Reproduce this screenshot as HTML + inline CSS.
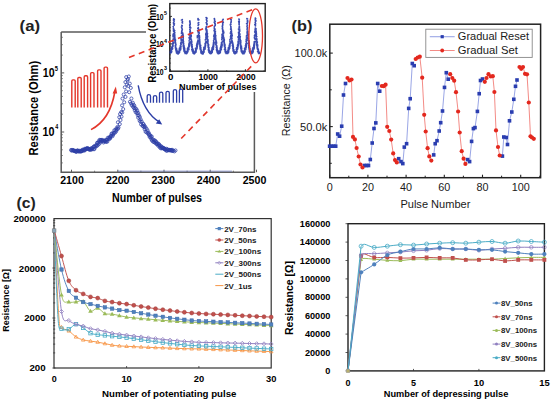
<!DOCTYPE html>
<html><head><meta charset="utf-8"><style>
html,body{margin:0;padding:0;background:#fff;}
svg{display:block;font-family:"Liberation Sans",sans-serif;}
</style></head><body>
<svg width="553" height="401" viewBox="0 0 553 401">
<rect width="553" height="401" fill="#fff"/>
<text x="19.6" y="30.6" font-size="14.5" font-weight="bold" textLength="20.5" lengthAdjust="spacingAndGlyphs" fill="#222">(a)</text>
<path d="M61.2,32 V172.2 H254.4 V92" fill="none" stroke="#5a5a5a" stroke-width="1.5"/>
<path d="M61.2,32 H146" fill="none" stroke="#5a5a5a" stroke-width="1.5"/>
<path d="M61.2,132 h3" stroke="#5a5a5a" stroke-width="1"/>
<path d="M61.2,72.9 h3" stroke="#5a5a5a" stroke-width="1"/>
<path d="M61.2,162.9 h1.6" stroke="#5a5a5a" stroke-width="0.8"/>
<path d="M61.2,155.5 h1.6" stroke="#5a5a5a" stroke-width="0.8"/>
<path d="M61.2,149.8 h1.6" stroke="#5a5a5a" stroke-width="0.8"/>
<path d="M61.2,145.1 h1.6" stroke="#5a5a5a" stroke-width="0.8"/>
<path d="M61.2,141.2 h1.6" stroke="#5a5a5a" stroke-width="0.8"/>
<path d="M61.2,137.7 h1.6" stroke="#5a5a5a" stroke-width="0.8"/>
<path d="M61.2,134.7 h1.6" stroke="#5a5a5a" stroke-width="0.8"/>
<path d="M61.2,114.2 h1.6" stroke="#5a5a5a" stroke-width="0.8"/>
<path d="M61.2,103.8 h1.6" stroke="#5a5a5a" stroke-width="0.8"/>
<path d="M61.2,96.4 h1.6" stroke="#5a5a5a" stroke-width="0.8"/>
<path d="M61.2,90.7 h1.6" stroke="#5a5a5a" stroke-width="0.8"/>
<path d="M61.2,86 h1.6" stroke="#5a5a5a" stroke-width="0.8"/>
<path d="M61.2,82.1 h1.6" stroke="#5a5a5a" stroke-width="0.8"/>
<path d="M61.2,78.6 h1.6" stroke="#5a5a5a" stroke-width="0.8"/>
<path d="M61.2,75.6 h1.6" stroke="#5a5a5a" stroke-width="0.8"/>
<path d="M61.2,55.1 h1.6" stroke="#5a5a5a" stroke-width="0.8"/>
<path d="M61.2,44.7 h1.6" stroke="#5a5a5a" stroke-width="0.8"/>
<path d="M61.2,37.3 h1.6" stroke="#5a5a5a" stroke-width="0.8"/>
<path d="M71.5,172.2 v-2.5" stroke="#5a5a5a" stroke-width="1"/>
<path d="M117.8,172.2 v-2.5" stroke="#5a5a5a" stroke-width="1"/>
<path d="M164,172.2 v-2.5" stroke="#5a5a5a" stroke-width="1"/>
<path d="M210.2,172.2 v-2.5" stroke="#5a5a5a" stroke-width="1"/>
<path d="M256.5,172.2 v-2.5" stroke="#5a5a5a" stroke-width="1"/>
<path d="M94.6,172.2 v-1.5" stroke="#5a5a5a" stroke-width="0.8"/>
<path d="M140.9,172.2 v-1.5" stroke="#5a5a5a" stroke-width="0.8"/>
<path d="M187.1,172.2 v-1.5" stroke="#5a5a5a" stroke-width="0.8"/>
<path d="M233.4,172.2 v-1.5" stroke="#5a5a5a" stroke-width="0.8"/>
<text x="42.8" y="76.8" font-size="12.4" font-weight="bold" textLength="11.8" lengthAdjust="spacingAndGlyphs">10</text>
<text x="54.8" y="71.4" font-size="7.5" font-weight="bold" textLength="3.2" lengthAdjust="spacingAndGlyphs">5</text>
<text x="42.6" y="135.8" font-size="12.4" font-weight="bold" textLength="12" lengthAdjust="spacingAndGlyphs">10</text>
<text x="55.2" y="129.4" font-size="7.5" font-weight="bold" textLength="3" lengthAdjust="spacingAndGlyphs">4</text>
<text x="72" y="184" font-size="11.8" font-weight="bold" text-anchor="middle" textLength="23.6" lengthAdjust="spacingAndGlyphs">2100</text>
<text x="117.7" y="184" font-size="11.8" font-weight="bold" text-anchor="middle" textLength="23.6" lengthAdjust="spacingAndGlyphs">2200</text>
<text x="163.2" y="184" font-size="11.8" font-weight="bold" text-anchor="middle" textLength="23.6" lengthAdjust="spacingAndGlyphs">2300</text>
<text x="208.6" y="184" font-size="11.8" font-weight="bold" text-anchor="middle" textLength="23.6" lengthAdjust="spacingAndGlyphs">2400</text>
<text x="254.5" y="184" font-size="11.8" font-weight="bold" text-anchor="middle" textLength="23.6" lengthAdjust="spacingAndGlyphs">2500</text>
<text x="112" y="202.1" font-size="12" font-weight="bold" textLength="90" lengthAdjust="spacingAndGlyphs">Number of pulses</text>
<text x="37.6" y="155.4" font-size="12" font-weight="bold" textLength="94.5" lengthAdjust="spacingAndGlyphs" transform="rotate(-90 37.6 155.4)">Resistance (Ohm)</text>
<path d="M118,171.1 H232" stroke="#5566bb" stroke-width="0.8" opacity="0.7"/>
<path d="M71.8,107.5 V81 Q71.8,79.9 72.9,79.9 H74.1 Q75.2,79.9 75.2,81 V107.5 M77.8,107.5 V78.6 Q77.8,77.5 78.9,77.5 H80.1 Q81.2,77.5 81.2,78.6 V107.5 M84.2,107.5 V76.9 Q84.2,75.8 85.3,75.8 H86.5 Q87.6,75.8 87.6,76.9 V107.5 M90.6,107.5 V73.7 Q90.6,72.6 91.7,72.6 H92.9 Q94,72.6 94,73.7 V107.5 M97.6,107.5 V71 Q97.6,69.9 98.7,69.9 H99.9 Q101,69.9 101,71 V107.5 M104.1,107.5 V68.2 Q104.1,67.1 105.2,67.1 H106.4 Q107.5,67.1 107.5,68.2 V107.5 " fill="none" stroke="#e4372b" stroke-width="1.4"/>
<path d="M91,129.6 Q110,120 114.8,92" fill="none" stroke="#e4372b" stroke-width="1.6"/>
<path d="M115.8,86.5 L112.6,93.5 L117.2,93.5 Z" fill="#e4372b"/>
<path d="M138.2,85.4 Q143,112 159.5,122.2" fill="none" stroke="#2c3ea6" stroke-width="1.4"/>
<path d="M162.2,124.4 L155.8,123.5 L159.2,119.2 Z" fill="#2c3ea6"/>
<g fill="none" stroke="#2c3ea6" stroke-width="0.75"><circle cx="72.4" cy="150" r="1.55"/><circle cx="71.1" cy="149.9" r="1.55"/><circle cx="73.4" cy="150.4" r="1.55"/><circle cx="71.6" cy="150.7" r="1.55"/><circle cx="74.1" cy="150.7" r="1.55"/><circle cx="72.6" cy="150.2" r="1.55"/><circle cx="75.2" cy="151.4" r="1.55"/><circle cx="73.5" cy="150.5" r="1.55"/><circle cx="76.3" cy="151.7" r="1.55"/><circle cx="74.7" cy="150.9" r="1.55"/><circle cx="77.4" cy="150.4" r="1.55"/><circle cx="75.8" cy="150.8" r="1.55"/><circle cx="77.8" cy="150.6" r="1.55"/><circle cx="76.4" cy="151.8" r="1.55"/><circle cx="78.8" cy="151.4" r="1.55"/><circle cx="77.5" cy="151.1" r="1.55"/><circle cx="79.9" cy="150.7" r="1.55"/><circle cx="78.1" cy="151" r="1.55"/><circle cx="80.9" cy="151.4" r="1.55"/><circle cx="79.2" cy="151.5" r="1.55"/><circle cx="81.7" cy="150.9" r="1.55"/><circle cx="80.4" cy="151.4" r="1.55"/><circle cx="82.5" cy="151" r="1.55"/><circle cx="81.2" cy="151.3" r="1.55"/><circle cx="83.7" cy="150.2" r="1.55"/><circle cx="82.4" cy="149.7" r="1.55"/><circle cx="84.5" cy="150.6" r="1.55"/><circle cx="82.8" cy="150" r="1.55"/><circle cx="85.2" cy="149.9" r="1.55"/><circle cx="84.1" cy="149.4" r="1.55"/><circle cx="86.6" cy="148.6" r="1.55"/><circle cx="85" cy="148.7" r="1.55"/><circle cx="87.3" cy="148.1" r="1.55"/><circle cx="86" cy="148.8" r="1.55"/><circle cx="88.2" cy="148.6" r="1.55"/><circle cx="86.4" cy="148.8" r="1.55"/><circle cx="89.2" cy="149.4" r="1.55"/><circle cx="87.8" cy="148.5" r="1.55"/><circle cx="90" cy="149.3" r="1.55"/><circle cx="88.3" cy="149" r="1.55"/><circle cx="90.8" cy="148.4" r="1.55"/><circle cx="89.2" cy="149.5" r="1.55"/><circle cx="91.7" cy="148.7" r="1.55"/><circle cx="90.3" cy="149.7" r="1.55"/><circle cx="92.6" cy="149.1" r="1.55"/><circle cx="91.3" cy="149.7" r="1.55"/><circle cx="94" cy="149.3" r="1.55"/><circle cx="92.1" cy="148.2" r="1.55"/><circle cx="94.6" cy="148.6" r="1.55"/><circle cx="93.4" cy="147" r="1.55"/><circle cx="95.4" cy="146.7" r="1.55"/><circle cx="93.9" cy="146.7" r="1.55"/><circle cx="96.6" cy="146" r="1.55"/><circle cx="94.7" cy="145.9" r="1.55"/><circle cx="97.4" cy="145.5" r="1.55"/><circle cx="96.2" cy="145.1" r="1.55"/><circle cx="98.4" cy="144.4" r="1.55"/><circle cx="97" cy="142.9" r="1.55"/><circle cx="99.6" cy="143.5" r="1.55"/><circle cx="98" cy="142.9" r="1.55"/><circle cx="100.2" cy="141.7" r="1.55"/><circle cx="98.5" cy="141.5" r="1.55"/><circle cx="100.9" cy="140" r="1.55"/><circle cx="99.5" cy="139.9" r="1.55"/><circle cx="102" cy="139.8" r="1.55"/><circle cx="100.3" cy="140.1" r="1.55"/><circle cx="102.8" cy="140.6" r="1.55"/><circle cx="101.2" cy="141.5" r="1.55"/><circle cx="104" cy="140.4" r="1.55"/><circle cx="102.3" cy="141" r="1.55"/><circle cx="104.8" cy="140.9" r="1.55"/><circle cx="103.5" cy="142.5" r="1.55"/><circle cx="105.8" cy="141.9" r="1.55"/><circle cx="104" cy="141.5" r="1.55"/><circle cx="106.6" cy="141.6" r="1.55"/><circle cx="105.4" cy="140.9" r="1.55"/><circle cx="107.4" cy="141.6" r="1.55"/><circle cx="106.1" cy="139.8" r="1.55"/><circle cx="108.6" cy="139" r="1.55"/><circle cx="107.1" cy="139.9" r="1.55"/><circle cx="109.7" cy="138.9" r="1.55"/><circle cx="107.8" cy="137.8" r="1.55"/><circle cx="110.2" cy="138" r="1.55"/><circle cx="108.9" cy="137.6" r="1.55"/><circle cx="111.2" cy="136.2" r="1.55"/><circle cx="110" cy="137" r="1.55"/><circle cx="112.5" cy="136.2" r="1.55"/><circle cx="110.9" cy="135.6" r="1.55"/><circle cx="113" cy="134.8" r="1.55"/><circle cx="111.6" cy="133.6" r="1.55"/><circle cx="113.8" cy="133.5" r="1.55"/><circle cx="112.4" cy="133.5" r="1.55"/><circle cx="115.3" cy="132.5" r="1.55"/><circle cx="113.8" cy="132.8" r="1.55"/><circle cx="116.2" cy="131.2" r="1.55"/><circle cx="114.3" cy="130.3" r="1.55"/><circle cx="116.7" cy="129.7" r="1.55"/><circle cx="115.4" cy="130.1" r="1.55"/><circle cx="118" cy="128.7" r="1.55"/><circle cx="116.4" cy="128.4" r="1.55"/><circle cx="118.5" cy="127.5" r="1.55"/><circle cx="117.5" cy="126.9" r="1.55"/><circle cx="119.8" cy="124.1" r="1.55"/><circle cx="117.9" cy="122.3" r="1.55"/><circle cx="120.5" cy="120.1" r="1.55"/><circle cx="119.3" cy="117.2" r="1.55"/><circle cx="121.5" cy="116.7" r="1.55"/><circle cx="120.1" cy="114" r="1.55"/><circle cx="122.2" cy="112.5" r="1.55"/><circle cx="121.2" cy="112.1" r="1.55"/><circle cx="123.2" cy="109.1" r="1.55"/><circle cx="122.1" cy="105.4" r="1.55"/><circle cx="124.2" cy="102.3" r="1.55"/><circle cx="122.5" cy="98.6" r="1.55"/><circle cx="125.5" cy="96.9" r="1.55"/><circle cx="123.7" cy="94.5" r="1.55"/><circle cx="126.1" cy="91.4" r="1.55"/><circle cx="124.8" cy="87.3" r="1.55"/><circle cx="126.9" cy="84.5" r="1.55"/><circle cx="125.4" cy="82.1" r="1.55"/><circle cx="127.9" cy="79.1" r="1.55"/><circle cx="126.2" cy="77.1" r="1.55"/><circle cx="128.8" cy="76.5" r="1.55"/><circle cx="127.4" cy="80.4" r="1.55"/><circle cx="129.8" cy="83.6" r="1.55"/><circle cx="128.3" cy="85.9" r="1.55"/><circle cx="130.8" cy="87.9" r="1.55"/><circle cx="129.2" cy="92.2" r="1.55"/><circle cx="131.4" cy="98.5" r="1.55"/><circle cx="130" cy="101.8" r="1.55"/><circle cx="132.8" cy="102.7" r="1.55"/><circle cx="131" cy="103.5" r="1.55"/><circle cx="133.6" cy="104.8" r="1.55"/><circle cx="131.8" cy="105.3" r="1.55"/><circle cx="134.3" cy="105.7" r="1.55"/><circle cx="133.1" cy="106.9" r="1.55"/><circle cx="135.4" cy="108.1" r="1.55"/><circle cx="134.1" cy="108.3" r="1.55"/><circle cx="136.4" cy="109.2" r="1.55"/><circle cx="134.8" cy="110.3" r="1.55"/><circle cx="137.2" cy="110.8" r="1.55"/><circle cx="135.7" cy="112.2" r="1.55"/><circle cx="138.3" cy="113" r="1.55"/><circle cx="136.9" cy="113.2" r="1.55"/><circle cx="139.1" cy="115.5" r="1.55"/><circle cx="137.8" cy="115.3" r="1.55"/><circle cx="139.8" cy="117" r="1.55"/><circle cx="138.2" cy="117.7" r="1.55"/><circle cx="140.7" cy="119.4" r="1.55"/><circle cx="139.6" cy="120.7" r="1.55"/><circle cx="141.7" cy="121.5" r="1.55"/><circle cx="140.4" cy="121.6" r="1.55"/><circle cx="143" cy="123.7" r="1.55"/><circle cx="141.1" cy="124.4" r="1.55"/><circle cx="143.7" cy="124.4" r="1.55"/><circle cx="142.5" cy="125.7" r="1.55"/><circle cx="144.4" cy="125.8" r="1.55"/><circle cx="143.1" cy="126.3" r="1.55"/><circle cx="145.4" cy="127" r="1.55"/><circle cx="144.2" cy="127.3" r="1.55"/><circle cx="146.5" cy="128.7" r="1.55"/><circle cx="144.7" cy="129.3" r="1.55"/><circle cx="147.5" cy="130.3" r="1.55"/><circle cx="145.6" cy="131.8" r="1.55"/><circle cx="148.5" cy="132.5" r="1.55"/><circle cx="146.6" cy="132.1" r="1.55"/><circle cx="149" cy="133.7" r="1.55"/><circle cx="147.6" cy="133.4" r="1.55"/><circle cx="150.2" cy="135.3" r="1.55"/><circle cx="148.9" cy="134.9" r="1.55"/><circle cx="150.9" cy="136.6" r="1.55"/><circle cx="149.6" cy="136.9" r="1.55"/><circle cx="151.8" cy="136.5" r="1.55"/><circle cx="150.6" cy="137.7" r="1.55"/><circle cx="152.7" cy="139.2" r="1.55"/><circle cx="151.5" cy="139.5" r="1.55"/><circle cx="153.7" cy="140.1" r="1.55"/><circle cx="152.1" cy="140.7" r="1.55"/><circle cx="154.8" cy="140.4" r="1.55"/><circle cx="153.3" cy="141.9" r="1.55"/><circle cx="155.6" cy="141.1" r="1.55"/><circle cx="154.2" cy="141.8" r="1.55"/><circle cx="156.4" cy="142.1" r="1.55"/><circle cx="154.9" cy="142.7" r="1.55"/><circle cx="157.5" cy="143.3" r="1.55"/><circle cx="156.2" cy="143.7" r="1.55"/><circle cx="158.5" cy="144" r="1.55"/><circle cx="156.9" cy="144.2" r="1.55"/><circle cx="159.3" cy="144.5" r="1.55"/><circle cx="158.1" cy="145.7" r="1.55"/><circle cx="160.2" cy="145.9" r="1.55"/><circle cx="159.1" cy="145.6" r="1.55"/><circle cx="161.5" cy="146.5" r="1.55"/><circle cx="159.8" cy="147.4" r="1.55"/><circle cx="162.2" cy="147.2" r="1.55"/><circle cx="160.8" cy="148.3" r="1.55"/><circle cx="163.1" cy="148.4" r="1.55"/><circle cx="161.7" cy="148.3" r="1.55"/><circle cx="164" cy="148" r="1.55"/><circle cx="162.3" cy="147.8" r="1.55"/><circle cx="164.7" cy="149" r="1.55"/><circle cx="163.3" cy="148.2" r="1.55"/><circle cx="165.7" cy="149.4" r="1.55"/><circle cx="164.6" cy="149.3" r="1.55"/><circle cx="166.7" cy="148.8" r="1.55"/><circle cx="165.2" cy="149.3" r="1.55"/><circle cx="167.6" cy="149.5" r="1.55"/><circle cx="166.1" cy="150.5" r="1.55"/><circle cx="169" cy="150" r="1.55"/><circle cx="167" cy="150.8" r="1.55"/><circle cx="169.5" cy="149.9" r="1.55"/><circle cx="167.8" cy="150" r="1.55"/><circle cx="170.5" cy="150.2" r="1.55"/><circle cx="168.8" cy="150.3" r="1.55"/><circle cx="171.2" cy="150" r="1.55"/><circle cx="169.7" cy="150.3" r="1.55"/><circle cx="172.1" cy="149.8" r="1.55"/><circle cx="170.7" cy="150.2" r="1.55"/><circle cx="173.4" cy="150.7" r="1.55"/><circle cx="171.9" cy="151" r="1.55"/><circle cx="174.4" cy="151.4" r="1.55"/><circle cx="172.6" cy="150.6" r="1.55"/><circle cx="175.5" cy="150.4" r="1.55"/></g>
<path d="M146,0 H270 V92 H146 Z" fill="#fff"/>
<rect x="169.8" y="3.6" width="95.4" height="67.6" fill="none" stroke="#222" stroke-width="1.4"/>
<path d="M169.8,71.4 h2.2" stroke="#222" stroke-width="0.9"/>
<path d="M169.8,43.9 h2.2" stroke="#222" stroke-width="0.9"/>
<path d="M169.8,16.4 h2.2" stroke="#222" stroke-width="0.9"/>
<path d="M169.8,63.1 h1.2" stroke="#222" stroke-width="0.6"/>
<path d="M169.8,58.3 h1.2" stroke="#222" stroke-width="0.6"/>
<path d="M169.8,54.8 h1.2" stroke="#222" stroke-width="0.6"/>
<path d="M169.8,52.2 h1.2" stroke="#222" stroke-width="0.6"/>
<path d="M169.8,50 h1.2" stroke="#222" stroke-width="0.6"/>
<path d="M169.8,48.2 h1.2" stroke="#222" stroke-width="0.6"/>
<path d="M169.8,46.6 h1.2" stroke="#222" stroke-width="0.6"/>
<path d="M169.8,45.2 h1.2" stroke="#222" stroke-width="0.6"/>
<path d="M169.8,35.6 h1.2" stroke="#222" stroke-width="0.6"/>
<path d="M169.8,30.8 h1.2" stroke="#222" stroke-width="0.6"/>
<path d="M169.8,27.3 h1.2" stroke="#222" stroke-width="0.6"/>
<path d="M169.8,24.7 h1.2" stroke="#222" stroke-width="0.6"/>
<path d="M169.8,22.5 h1.2" stroke="#222" stroke-width="0.6"/>
<path d="M169.8,20.7 h1.2" stroke="#222" stroke-width="0.6"/>
<path d="M169.8,19.1 h1.2" stroke="#222" stroke-width="0.6"/>
<path d="M169.8,17.7 h1.2" stroke="#222" stroke-width="0.6"/>
<path d="M169.8,8.1 h1.2" stroke="#222" stroke-width="0.6"/>
<path d="M170.5,71.2 v-2" stroke="#222" stroke-width="0.9"/>
<path d="M207.9,71.2 v-2" stroke="#222" stroke-width="0.9"/>
<path d="M245.4,71.2 v-2" stroke="#222" stroke-width="0.9"/>
<path d="M189.2,71.2 v-1.2" stroke="#222" stroke-width="0.6"/>
<path d="M226.7,71.2 v-1.2" stroke="#222" stroke-width="0.6"/>
<path d="M264.1,71.2 v-1.2" stroke="#222" stroke-width="0.6"/>
<path d="M170.5,52.9h.1M170.3,52.4h.1M170.5,51.5h.1M170.6,51.6h.1M170.7,51.2h.1M170.7,52.4h.1M170.6,51.7h.1M170.6,52.2h.1M170.9,52.2h.1M170.8,51.5h.1M170.4,51.8h.1M171,51.9h.1M170.9,51.5h.1M170.5,51.8h.1M171.1,52.4h.1M171.1,51.7h.1M171,51.7h.1M171,51h.1M171.5,50.9h.1M171.6,51.7h.1M170.8,50.8h.1M171.5,51.3h.1M171.2,50h.1M171.1,50.7h.1M171.1,49.8h.1M171.1,49.4h.1M171.9,48.6h.1M171.8,48.8h.1M171.9,48.7h.1M171.4,48.7h.1M171.6,47.5h.1M171.2,48.2h.1M171.7,48h.1M171.4,48.2h.1M171.7,48.9h.1M171.4,48.9h.1M172.2,48.2h.1M172.3,49.1h.1M172.4,48.7h.1M171.9,48.6h.1M172.5,48.6h.1M172,48h.1M172,47.2h.1M171.9,48h.1M172.1,47.8h.1M172.1,46.6h.1M172.4,46.2h.1M172.3,47h.1M172.8,46.6h.1M172.6,46.5h.1M172.9,45.7h.1M172.8,44.8h.1M172.8,45.1h.1M172.9,45h.1M172.5,43.8h.1M173.1,43.6h.1M172.8,43.6h.1M172.7,43.8h.1M173.3,42.7h.1M173.1,42.4h.1M173,42.1h.1M172.7,41.4h.1M172.8,41.4h.1M173.1,39.2h.1M173.5,39h.1M173.2,36.8h.1M173,35.9h.1M173.1,35.1h.1M173.1,34.6h.1M173.4,33.8h.1M173.6,31.3h.1M173.4,29.9h.1M173.4,28.2h.1M173.2,26.5h.1M174,24.7h.1M173.6,23.8h.1M174,21.6h.1M173.5,20.1h.1M173.7,18.9h.1M174.2,19.4h.1M174.2,20h.1M173.5,22.7h.1M174.3,23.8h.1M174.1,25.1h.1M173.9,29.3h.1M174.4,31h.1M174.6,30.6h.1M173.8,30.9h.1M174.2,32.1h.1M174.7,32.6h.1M174.4,33.2h.1M174.3,33.3h.1M174,34h.1M174.2,34.6h.1M174.6,34.2h.1M174.2,34.6h.1M174.7,35.7h.1M174.3,35.5h.1M174.7,36.8h.1M174.6,36.9h.1M174.8,37.2h.1M174.6,38.4h.1M175.3,39.2h.1M175.2,39.5h.1M174.7,39.7h.1M175.4,40.7h.1M174.8,40.2h.1M175.1,41.5h.1M175,41.3h.1M175.3,42.6h.1M175,41.8h.1M175.1,42.7h.1M175.5,42.8h.1M175.6,44h.1M175.4,43.6h.1M175.8,44.2h.1M175.8,44.5h.1M175.3,45.6h.1M175.4,46.3h.1M175.6,45.5h.1M175.4,46.2h.1M175.8,47.3h.1M175.4,46.9h.1M175.5,48h.1M175.5,47h.1M175.5,47.8h.1M176.3,48.8h.1M176.2,49.2h.1M176.4,48.6h.1M175.8,49.7h.1M176.3,48.7h.1M176.3,49.4h.1M176.1,49.6h.1M175.9,49.4h.1M176.1,50.1h.1M176.7,50h.1M176.8,50.2h.1M176.3,51.3h.1M176.7,50.9h.1M176.1,51.1h.1M176.4,51.9h.1M176.3,51.3h.1M177,51h.1M176.6,52.2h.1M177,51.2h.1M176.3,51.3h.1M177.2,51.7h.1M177.1,52.7h.1M176.7,51.9h.1M177.3,52.5h.1M176.8,52.7h.1M176.9,52.2h.1M176.6,52.9h.1M177.5,52.8h.1M177.6,52h.1M177,52.6h.1M177.7,53.3h.1M177.2,52.4h.1M177.3,52.8h.1M177.8,52.4h.1M177.7,53.2h.1M177.8,53.3h.1M177.6,52.7h.1M177.4,52.8h.1M177.9,52.4h.1M177.4,53.4h.1M177.5,52.4h.1M177.3,53.1h.1M177.6,53.7h.1M178.2,53.7h.1M177.7,52.4h.1M177.6,53h.1M178.2,52.9h.1M177.8,52.9h.1M177.9,53.3h.1M178,53.5h.1M178,52.5h.1M178.2,52.8h.1M178,53h.1M178.2,52.7h.1M177.8,52.8h.1M177.7,53.7h.1M178.2,53h.1M178.1,53.8h.1M178.2,52.6h.1M178.5,53.1h.1M178.7,52.3h.1M178.3,53.2h.1M178.7,53.2h.1M178,52.3h.1M178.1,51.9h.1M178.9,52.3h.1M178.9,51.8h.1M178.9,51.7h.1M178.4,52.1h.1M179.1,51.3h.1M178.8,52.1h.1M178.5,51.8h.1M178.5,51.7h.1M178.6,52.3h.1M179,51.7h.1M178.5,51.9h.1M179.2,51.7h.1M178.9,51.8h.1M179.4,52.3h.1M178.7,51.4h.1M179.1,51.9h.1M179.3,51h.1M179,51.7h.1M179.2,50.9h.1M179.2,51.6h.1M179.2,50.9h.1M179.3,50.3h.1M179.8,50.8h.1M179.4,49.4h.1M179.8,49.1h.1M179.2,49.8h.1M179.6,49.4h.1M179.6,49.1h.1M179.7,47.8h.1M179.4,48.4h.1M180,49h.1M179.5,48.7h.1M179.8,48.5h.1M179.7,48.3h.1M180,49.3h.1M179.7,48.9h.1M180.4,49.7h.1M179.9,48.6h.1M180.6,49.6h.1M180.2,48h.1M180.7,48.2h.1M180.7,48.2h.1M180.7,47.2h.1M180.7,47h.1M180.4,47.6h.1M180.8,46.5h.1M180.3,46.5h.1M180.6,46.2h.1M180.3,45.8h.1M180.9,46.5h.1M180.3,45.8h.1M181,44.8h.1M181.1,44.6h.1M181,44.8h.1M181,44.2h.1M180.9,44.2h.1M180.9,44h.1M181,43.3h.1M180.7,43.2h.1M181.1,42.3h.1M181.4,42.7h.1M181.2,40.8h.1M181.2,39.5h.1M181,38.8h.1M181,37.8h.1M181.4,36.5h.1M181.6,35.8h.1M181.7,36h.1M181.5,33.4h.1M181.6,32.1h.1M182,30.3h.1M182,30h.1M181.9,28.3h.1M181.5,26.9h.1M181.8,25.3h.1M182.2,22.6h.1M182.2,22.3h.1M181.5,20h.1M182.2,19.7h.1M182.4,21.5h.1M182.4,23h.1M182.1,25.6h.1M181.9,26.5h.1M182.2,29.3h.1M181.8,30.9h.1M182,32.4h.1M182.5,32.8h.1M182.1,33.1h.1M182.1,33.1h.1M182.6,33.4h.1M182.9,34h.1M182.6,34.9h.1M182.2,35.5h.1M182.8,35h.1M183,35.2h.1M183.2,36.2h.1M182.7,37.1h.1M182.8,36.9h.1M183.1,37.3h.1M183.2,38.1h.1M183.1,39.7h.1M183.1,39.8h.1M182.9,39.4h.1M182.7,40h.1M183.2,40.8h.1M183.2,41.9h.1M182.9,41.3h.1M183.4,41.4h.1M182.9,42.2h.1M183,42.6h.1M183.2,43.3h.1M183.5,43.2h.1M183.6,44h.1M183.2,45h.1M183.4,44.3h.1M183.3,45.4h.1M184,45.9h.1M183.6,45.6h.1M183.3,46.4h.1M183.9,46.4h.1M184,46.8h.1M184.3,47.6h.1M183.7,48.1h.1M183.6,47.9h.1M183.9,47.8h.1M183.7,48.8h.1M183.7,48.8h.1M184.6,48.5h.1M183.9,49.4h.1M184.3,49.7h.1M184.6,49.3h.1M184.2,49.7h.1M184,50.7h.1M184.7,50.7h.1M184,51.1h.1M184.7,50.7h.1M184.8,50.8h.1M184.4,50.5h.1M184.4,50.6h.1M184.5,51.8h.1M184.9,52.1h.1M185,51.4h.1M184.9,51.7h.1M185.1,51.9h.1M184.7,52.2h.1M185.4,51.7h.1M185.4,51.5h.1M184.8,51.9h.1M185.3,52.9h.1M185.4,52.2h.1M185.5,52.2h.1M185,53.1h.1M185.4,52.9h.1M185.5,53.3h.1M185.3,53.2h.1M185.6,53.2h.1M185.4,53.1h.1M185.6,52.5h.1M185.3,53h.1M185.2,53.4h.1M185.3,52.2h.1M185.3,53.5h.1M185.6,52.5h.1M185.3,52.4h.1M186,53.2h.1M186,53.3h.1M185.5,53.1h.1M185.8,53.4h.1M186.3,53.5h.1M185.6,53.5h.1M186.5,53.6h.1M185.8,52.6h.1M185.8,52.3h.1M186.2,53.5h.1M186.1,53.5h.1M186.1,52.8h.1M185.7,52.5h.1M186.3,52.7h.1M186,53h.1M185.7,52.8h.1M186,53.5h.1M186.1,52.9h.1M186.7,53.1h.1M186.7,53.2h.1M186,52.8h.1M186.4,53.2h.1M186.4,53h.1M186.6,52.3h.1M186.9,52h.1M186.9,51.9h.1M186.2,51.8h.1M186.9,52.7h.1M186.3,51.8h.1M186.8,52.2h.1M186.6,51.8h.1M186.8,52.4h.1M186.7,52.7h.1M186.8,51.7h.1M187.2,52.2h.1M186.7,52.4h.1M186.7,52.6h.1M187.3,52.6h.1M187.3,52h.1M187.2,52.1h.1M187.6,51.5h.1M187.7,51.2h.1M187.1,51.3h.1M187.8,51.4h.1M187.4,51.8h.1M187.3,51h.1M187.6,51.2h.1M187.8,50.7h.1M187.5,50h.1M187.4,50.4h.1M187.9,50h.1M187.5,49.3h.1M188.1,49.2h.1M187.5,48.7h.1M188.3,48.1h.1M187.7,48.3h.1M188.2,49.1h.1M187.7,48.2h.1M187.9,48.5h.1M188.2,48.3h.1M188,48.5h.1M188.7,49.3h.1M187.9,49.8h.1M188,49.1h.1M188.8,49.5h.1M188.6,48.7h.1M188.2,48.7h.1M188.1,47.8h.1M188.4,47.3h.1M188.5,48h.1M188.8,47.4h.1M188.8,47.1h.1M188.4,47h.1M188.7,47h.1M189.2,46.3h.1M188.9,46.5h.1M188.8,45.6h.1M189.1,46.2h.1M189.2,45.7h.1M189.3,45.3h.1M189.2,44.7h.1M188.9,44.6h.1M188.8,44h.1M189.5,44.1h.1M189.4,43.1h.1M189.2,43h.1M189.4,42.5h.1M189.5,42.3h.1M189.1,40.8h.1M189.7,39.2h.1M189.5,39.1h.1M189.1,37.7h.1M189.3,37.3h.1M190,36.2h.1M189.3,34.8h.1M189.8,33.3h.1M189.8,31.8h.1M190.1,30.2h.1M189.8,29.3h.1M189.7,27.5h.1M189.9,26h.1M189.7,24.9h.1M189.9,22.2h.1M189.9,21.2h.1M189.7,21.2h.1M190.1,23.2h.1M190.1,24.2h.1M190,26.3h.1M190.7,27.8h.1M190.1,30.8h.1M190.3,31.7h.1M190.1,32.9h.1M190.8,33.1h.1M190.5,33.5h.1M190.3,34.5h.1M190.5,34.4h.1M191,35.1h.1M190.7,34.7h.1M190.8,34.9h.1M191.1,35.6h.1M191.2,35.9h.1M190.8,36.3h.1M190.9,36.8h.1M190.5,38.2h.1M190.8,38.1h.1M190.9,38.9h.1M191.1,39.7h.1M191.3,39.8h.1M191.6,41h.1M190.9,41.4h.1M191.7,41.8h.1M191,42.2h.1M191.5,41.4h.1M191,43.1h.1M191.6,42.5h.1M191.2,42.7h.1M191.3,44h.1M191.5,43.5h.1M192,44.7h.1M191.4,45.2h.1M191.8,45.5h.1M191.9,46h.1M192.1,46.3h.1M191.6,46.4h.1M191.9,46.8h.1M191.9,47.3h.1M192.1,46.8h.1M191.8,46.9h.1M192.1,47.1h.1M192.1,47.5h.1M192.2,48.3h.1M192.3,49.1h.1M191.8,49.3h.1M192.3,49.2h.1M192.5,49.8h.1M192.3,49.5h.1M192.9,49.2h.1M192.6,50.2h.1M192.1,50.4h.1M192.8,51.1h.1M192.5,51.3h.1M192.7,50.8h.1M193.1,50.3h.1M193,51.3h.1M192.7,51.8h.1M192.7,51.4h.1M192.9,52h.1M192.7,51.7h.1M192.9,51.9h.1M193.3,51.6h.1M193.4,51.9h.1M193.1,51.8h.1M193.2,52.8h.1M193.4,52.7h.1M193.1,52.1h.1M193.1,52.5h.1M193.5,52.9h.1M193,52.9h.1M193.8,52.7h.1M193.1,52.4h.1M193.1,52.3h.1M193.9,52.9h.1M193.8,53.2h.1M194,53h.1M193.8,53h.1M193.9,53h.1M194,52.5h.1M194,52.9h.1M194.1,52.4h.1M193.6,52.4h.1M194.2,53.6h.1M194.2,52.8h.1M194.3,53.4h.1M194.2,52.7h.1M194,52.9h.1M194,52.9h.1M194.4,53.6h.1M193.9,53.1h.1M193.9,52.5h.1M194.3,53.1h.1M194.5,53h.1M193.7,52.9h.1M194.3,53.7h.1M194.7,53.1h.1M194.2,52.6h.1M194.5,52.8h.1M194.1,52.5h.1M194,53.5h.1M194.1,53.8h.1M194.1,53.5h.1M194.2,52.3h.1M194.8,52.5h.1M194.9,52.3h.1M194.3,53h.1M194.9,53h.1M195,51.8h.1M194.9,52.4h.1M194.8,52.6h.1M194.7,52.4h.1M195.2,51h.1M194.6,52h.1M195.3,51.3h.1M194.9,52.3h.1M194.8,52.6h.1M195.2,51.5h.1M195.1,52.2h.1M195.2,52.4h.1M195,52.6h.1M195.2,52.4h.1M195.5,52.1h.1M195.3,52.4h.1M195.9,52.1h.1M195.6,51.2h.1M195.2,52h.1M195.8,51.6h.1M195.5,51h.1M196.1,51.1h.1M195.9,50.1h.1M195.7,50.6h.1M195.7,50h.1M196,49.9h.1M196.2,48.8h.1M195.5,48.4h.1M196,48.5h.1M196.4,48.7h.1M195.7,48.7h.1M196.4,48.8h.1M196.3,48h.1M196.6,48.8h.1M196.5,49h.1M196.2,48h.1M196.4,49.1h.1M196.2,49.2h.1M196.9,48.6h.1M196.6,49h.1M196.5,48h.1M196.4,48.5h.1M196.9,47.8h.1M196.3,47.9h.1M197,46.8h.1M196.9,47.5h.1M197.2,46.7h.1M196.9,46.5h.1M196.6,45.7h.1M196.7,46.2h.1M196.9,45.7h.1M197,45.4h.1M196.8,44.5h.1M197.6,44.6h.1M196.8,44.6h.1M197.5,43.6h.1M197.4,43.6h.1M197.3,42.8h.1M196.9,43.8h.1M197.7,42.6h.1M197.5,41.9h.1M197.7,41.8h.1M197.9,41.2h.1M197.9,40.2h.1M197.4,37.7h.1M197.4,36.9h.1M197.3,35.9h.1M197.8,36.2h.1M197.8,35.5h.1M198.2,32.7h.1M198,31.3h.1M197.6,30.5h.1M197.8,28.5h.1M198.2,27.5h.1M198.2,25.1h.1M198.1,23.1h.1M198.6,22.6h.1M198,19.8h.1M198,18.7h.1M198.7,19.5h.1M198.6,20h.1M198.6,22.7h.1M198.6,24.6h.1M198.1,25.3h.1M198.8,29.3h.1M198.7,30.2h.1M198.7,31.3h.1M198.3,31.2h.1M198.5,31.3h.1M198.7,31.9h.1M198.6,32.3h.1M199,32.5h.1M199.1,33.2h.1M198.5,34.7h.1M198.7,35.1h.1M199.3,35.4h.1M198.7,35.4h.1M198.7,36.7h.1M199.5,36.9h.1M199.1,37.1h.1M199.5,37.9h.1M199.4,37.9h.1M199.1,38.4h.1M199.6,39.6h.1M199.1,40.6h.1M199.2,40.3h.1M199.2,40.5h.1M199.9,41h.1M199.3,41.6h.1M199.5,42.6h.1M199.3,43.1h.1M199.3,43.4h.1M199.9,42.8h.1M199.8,43.4h.1M199.6,43.6h.1M199.8,45.1h.1M200.4,45.5h.1M199.6,45h.1M200.4,45h.1M200.3,45.7h.1M200.6,45.6h.1M200.4,46.4h.1M199.9,46.3h.1M200.6,47.4h.1M200,47.5h.1M200.7,47.5h.1M200.5,47.7h.1M200.2,48.9h.1M200.7,48.4h.1M200.1,48.5h.1M200.7,49.3h.1M200.4,49.2h.1M200.8,50.1h.1M201,50.2h.1M200.5,49.7h.1M201,50.4h.1M201,50h.1M201.2,50.6h.1M201.2,51.5h.1M201,50.5h.1M201.4,51.3h.1M201.4,51.2h.1M200.8,52.1h.1M201,51.3h.1M201.1,52h.1M200.8,52h.1M201.2,52h.1M201,52.4h.1M201.7,52.7h.1M201.3,52.6h.1M201.4,52.7h.1M201.1,53h.1M202,52.5h.1M201.6,52.6h.1M201.7,52h.1M202.1,52.3h.1M201.4,52.1h.1M201.5,53.2h.1M201.4,52.2h.1M202,52.4h.1M201.5,53h.1M202,52.9h.1M202.2,52.4h.1M202.4,53.3h.1M201.7,52.5h.1M202.1,53h.1M202,52.5h.1M202.1,52.5h.1M202.3,53.5h.1M202,53.1h.1M202.6,52.5h.1M202.7,53.6h.1M202.3,52.9h.1M202.8,53h.1M202.1,53.7h.1M202.5,52.8h.1M202.1,52.9h.1M202.3,53.8h.1M202.7,53.7h.1M202.7,53.7h.1M202.1,53.2h.1M203,53.8h.1M202.4,53.1h.1M202.7,52.9h.1M202.7,52.4h.1M202.7,52.9h.1M202.3,52.3h.1M203.2,53.1h.1M203.2,52.8h.1M203.2,53.1h.1M203.3,51.7h.1M203.1,51.8h.1M203.2,51.6h.1M203.1,52.3h.1M203.2,51.3h.1M203.2,51.6h.1M203.6,51.5h.1M203.1,52.1h.1M203,52.2h.1M203.8,52.1h.1M203.2,52h.1M203.5,51.6h.1M203.1,51.6h.1M203.3,52h.1M203.4,51.8h.1M203.2,52h.1M204,51.9h.1M203.8,51.7h.1M203.5,51.6h.1M203.8,51.1h.1M203.9,50.8h.1M203.7,50.2h.1M203.7,50.3h.1M203.9,50h.1M203.6,49.4h.1M204.4,48.9h.1M204.2,48.9h.1M204,49.3h.1M204,48.6h.1M203.9,47.4h.1M204.6,47.9h.1M203.9,47.9h.1M204.3,48.5h.1M204.1,47.8h.1M204.9,48.6h.1M204.2,48.2h.1M204.4,48.8h.1M204.7,49.2h.1M204.9,48.9h.1M204.9,48.9h.1M205,48.2h.1M205,48.3h.1M205.2,47.1h.1M205.2,46.6h.1M205.1,47.1h.1M204.9,47.4h.1M205.1,46.3h.1M205.3,46.7h.1M205.2,45.8h.1M205.1,45.6h.1M205.4,45.1h.1M205.1,45.2h.1M205.2,44.6h.1M205.6,45h.1M205.3,44.1h.1M205.1,43.5h.1M205.1,43.6h.1M205.6,42.5h.1M205.9,42.5h.1M205.9,42.8h.1M206,41.5h.1M205.6,42.1h.1M205.3,39.8h.1M205.8,39.1h.1M206.2,38.2h.1M205.9,37.5h.1M205.9,36h.1M206.1,35h.1M205.8,34.4h.1M205.9,33.2h.1M206.2,30.7h.1M205.7,28.9h.1M206.1,27.6h.1M206.3,26.5h.1M206.7,24.2h.1M206.2,22.7h.1M206.8,20.7h.1M206.4,19.8h.1M206.1,17.5h.1M206.9,18.2h.1M206.5,19h.1M206.9,21.6h.1M206.9,23.6h.1M207,24.7h.1M206.4,27.6h.1M206.7,29.7h.1M206.5,29.7h.1M206.9,30.8h.1M206.7,31.8h.1M207,31h.1M206.9,32.5h.1M206.8,32.8h.1M206.6,32.7h.1M207.4,33.5h.1M207.3,33.4h.1M207.2,34.4h.1M207,35h.1M207.3,36.2h.1M207.4,36h.1M207,36.3h.1M207.6,36.8h.1M207.1,37.5h.1M207.5,39h.1M207.6,39.5h.1M207.2,38.9h.1M207.9,39.8h.1M207.9,40.2h.1M207.4,40.5h.1M207.4,41.8h.1M207.9,41.5h.1M207.8,41.9h.1M207.5,43h.1M208,43.6h.1M207.9,43.5h.1M207.8,43.1h.1M208.5,44.7h.1M207.9,45.1h.1M208.4,44.7h.1M208.3,46h.1M208.2,46.4h.1M208.1,45.9h.1M208.5,46.1h.1M208.2,47.3h.1M208.4,47.6h.1M208.2,47h.1M208.4,47.3h.1M209,47.8h.1M208.7,47.8h.1M208.7,48.5h.1M208.6,48.3h.1M208.4,49.7h.1M208.6,49.1h.1M208.5,49.4h.1M208.6,49.3h.1M209.1,50h.1M208.6,50.7h.1M208.6,50.2h.1M209.3,50.2h.1M209,51.4h.1M209.4,50.6h.1M209,51.6h.1M209.1,52.1h.1M209,52.2h.1M209.3,51.3h.1M209.3,51.3h.1M209.6,51.6h.1M209.8,52.1h.1M209.4,51.7h.1M209.6,51.8h.1M209.9,51.7h.1M209.6,52.4h.1M209.5,52.8h.1M209.6,52.8h.1M209.8,52.3h.1M209.7,52h.1M209.6,53.1h.1M209.7,52.9h.1M209.6,52.8h.1M209.9,52.8h.1M209.8,52.2h.1M209.9,52.5h.1M209.8,53.2h.1M210,52.8h.1M210.6,53.4h.1M210.6,53.5h.1M210,52.7h.1M209.9,53.3h.1M210.5,52.8h.1M210.3,53.2h.1M210.6,52.6h.1M210.8,52.8h.1M210.7,52.6h.1M210.3,53.6h.1M210.9,53.3h.1M210,52.4h.1M210.1,52.6h.1M210.3,52.9h.1M210.1,52.8h.1M210.7,52.7h.1M210.9,53.3h.1M210.9,52.8h.1M210.6,53.5h.1M210.6,52.5h.1M211.1,53.5h.1M210.6,52.4h.1M211.2,53.1h.1M210.5,52.5h.1M210.6,53.1h.1M210.8,53.2h.1M211.3,52h.1M211.3,52.2h.1M211.4,52.6h.1M211,51.4h.1M211.6,51.7h.1M211.7,51.9h.1M211.5,52.2h.1M211.5,51.8h.1M211,52.3h.1M211.4,52.1h.1M211.9,51.6h.1M211.8,51.5h.1M211.8,52.6h.1M211.4,52.2h.1M212.1,52.4h.1M211.8,51.8h.1M211.4,51.8h.1M211.7,51.3h.1M211.7,51h.1M212.1,51.6h.1M211.7,50.8h.1M212,50.8h.1M212.4,50.5h.1M211.9,50.9h.1M211.8,50.2h.1M212,50.2h.1M212.3,49.8h.1M212,49.3h.1M212.4,48.7h.1M212.6,48.9h.1M212,47.9h.1M212.3,47.8h.1M212.1,48h.1M212.3,48.6h.1M212.5,47.9h.1M212.5,48.5h.1M212.5,48.2h.1M212.3,48.1h.1M213.2,49.2h.1M212.4,49.3h.1M213.3,48.9h.1M212.5,48.5h.1M212.9,47.8h.1M213,47.2h.1M213.4,47.8h.1M213.2,47.9h.1M213.2,46.6h.1M212.9,46.2h.1M212.8,46.9h.1M213.5,46h.1M213,46.2h.1M213.6,46.3h.1M213.1,45.9h.1M213.7,45.6h.1M213.3,44.4h.1M213.8,44.3h.1M213.4,44.3h.1M213.5,44.4h.1M213.4,42.9h.1M213.7,43.4h.1M214,43.1h.1M214.1,43h.1M213.8,42h.1M213.6,40.7h.1M214,39.2h.1M214.1,38h.1M213.9,38.1h.1M213.7,36.1h.1M214,35.5h.1M214.3,34.4h.1M214.5,34h.1M214.5,31.6h.1M214.1,30.4h.1M214.3,28.6h.1M214.2,27.1h.1M214.5,26h.1M214.8,23.4h.1M214.3,22.2h.1M214.6,20.6h.1M214.3,18.7h.1M214.5,19.2h.1M215.1,21.6h.1M215,23.4h.1M215.2,24.4h.1M215.1,25.5h.1M215,29.1h.1M214.7,30.8h.1M215.3,31.2h.1M215.1,31.4h.1M214.9,32.7h.1M214.6,32.1h.1M215.3,33h.1M214.8,33.7h.1M215.1,34h.1M215.2,34.3h.1M215.3,34.5h.1M215,34.7h.1M215.7,35.7h.1M215.1,36.8h.1M215.2,36.3h.1M215.5,37.2h.1M215.5,38.1h.1M215.4,38.7h.1M215.3,39.2h.1M215.8,39.1h.1M215.7,39.6h.1M215.7,41.1h.1M215.9,41.3h.1M216.1,40.8h.1M216.4,42.1h.1M215.6,42.6h.1M215.9,42.1h.1M216.5,43h.1M216.3,42.8h.1M216.4,43.1h.1M215.9,44h.1M215.8,44.7h.1M216,44.7h.1M216.5,45.3h.1M216.7,45.9h.1M216.7,46.1h.1M216.8,46.9h.1M216.2,47.1h.1M216.4,47.4h.1M216.7,47.9h.1M216.3,47.5h.1M216.9,48.6h.1M216.9,47.6h.1M216.9,48h.1M216.8,49.3h.1M216.5,49.7h.1M217,49h.1M216.7,49.5h.1M217.3,50h.1M216.7,49.4h.1M216.7,50.8h.1M216.8,50.6h.1M217,50.9h.1M217.1,50.4h.1M217.6,51.1h.1M217.5,51.6h.1M217.7,50.7h.1M217.2,51h.1M217.4,52.2h.1M217.7,51.1h.1M217.2,52.3h.1M217.7,51.8h.1M217.6,51.5h.1M218,52h.1M218,52.4h.1M217.4,52.1h.1M217.5,52.9h.1M217.9,51.8h.1M217.6,52.4h.1M217.9,52.7h.1M217.9,52.4h.1M217.6,52.8h.1M217.9,52h.1M218.1,53.4h.1M217.7,52.3h.1M218.3,52.5h.1M218,52.9h.1M218.1,53h.1M218.3,53.6h.1M218.8,52.3h.1M218.5,53.4h.1M218.8,53.4h.1M218.6,53.2h.1M218.4,52.7h.1M218.8,53.5h.1M219,53.3h.1M218.5,53.4h.1M218.9,53h.1M218.9,52.8h.1M218.9,52.9h.1M218.2,52.8h.1M218.4,53.7h.1M218.6,52.9h.1M218.5,52.7h.1M218.6,52.6h.1M218.3,53.7h.1M218.8,53.1h.1M218.9,52.9h.1M218.6,52.6h.1M218.8,52.8h.1M219.2,53.1h.1M219.4,52.7h.1M219.5,53h.1M218.8,52.3h.1M219.2,53.3h.1M219.1,52.9h.1M219.2,52.9h.1M218.9,52.2h.1M219.7,51.7h.1M219.2,51.1h.1M219.1,51.4h.1M219.7,51.4h.1M219.4,51.5h.1M219.7,52.5h.1M219.8,51.7h.1M219.9,52.8h.1M219.8,51.5h.1M220,52.7h.1M219.7,51.7h.1M219.6,52.2h.1M220.2,52.4h.1M220.3,51.6h.1M219.8,52.1h.1M220.2,51.4h.1M220.2,51.1h.1M219.7,51h.1M219.7,51.1h.1M220,50.7h.1M220.3,50.1h.1M220.3,49.4h.1M220.7,49.9h.1M220.8,48.9h.1M220.5,49.5h.1M220.3,48.3h.1M220.2,48h.1M220.8,47.7h.1M220.9,48.2h.1M220.7,48.5h.1M220.7,48.7h.1M220.8,48.3h.1M221,48.2h.1M221,49.1h.1M221.1,48.6h.1M221.2,49.6h.1M220.9,48.8h.1M221,49.5h.1M220.7,47.9h.1M221.1,48.5h.1M221.4,47.8h.1M221.6,47.3h.1M221.5,46.8h.1M220.8,46.6h.1M220.9,46.8h.1M221.4,46.1h.1M221.8,46.1h.1M221.1,45.6h.1M221.7,46.4h.1M221.2,44.9h.1M221.8,45h.1M222.1,45h.1M221.8,44.5h.1M222,44.3h.1M221.6,44.6h.1M221.4,44h.1M221.5,43.5h.1M221.8,43.4h.1M221.5,42.6h.1M221.9,42.7h.1M222.4,41.3h.1M221.8,39.6h.1M221.9,38.6h.1M221.9,37.3h.1M222.4,37.1h.1M222.1,36.8h.1M222,35.5h.1M222,34.3h.1M222.7,31.6h.1M222.7,30.9h.1M222.3,28.8h.1M222.5,28.1h.1M222.3,26.2h.1M222.7,24.3h.1M222.7,23.3h.1M222.4,21.8h.1M222.6,20.2h.1M223.1,19.3h.1M223.2,22.2h.1M222.7,22.5h.1M222.6,25.3h.1M222.5,27.1h.1M222.7,29.6h.1M222.7,30.6h.1M223.3,30.9h.1M223,32.5h.1M223.4,32.9h.1M223.7,32.2h.1M223,33.7h.1M223.5,33.1h.1M223.4,33.8h.1M223.3,34h.1M223,35.6h.1M223.3,35.9h.1M223.2,35.9h.1M223.3,36.4h.1M223.3,37.4h.1M223.4,38.1h.1M223.7,37.7h.1M223.6,38.8h.1M224.2,39.2h.1M223.6,40.6h.1M224.2,40.7h.1M223.7,40.3h.1M223.8,40.6h.1M223.6,41.6h.1M224,42h.1M224,41.6h.1M224.3,42.9h.1M224.2,43.2h.1M224.4,44.2h.1M224.6,44.2h.1M224.2,44h.1M224.3,45.3h.1M224.3,44.9h.1M224.4,45h.1M225,45.1h.1M224.7,46.8h.1M224.4,46.6h.1M224.5,46.5h.1M224.4,46.6h.1M225,47.9h.1M225.2,47.1h.1M225,47.8h.1M225,48.4h.1M224.8,49.3h.1M224.5,49.3h.1M225.3,49.2h.1M225.1,50.1h.1M224.9,49.8h.1M225.4,49.7h.1M225.4,50h.1M225.3,50.5h.1M225.4,50.3h.1M225.4,50.8h.1M225.1,51h.1M225.2,51.6h.1M225.4,51.5h.1M225.5,51.4h.1M225.3,51.1h.1M226,51.7h.1M225.7,51.8h.1M226,51.5h.1M225.4,52.4h.1M225.7,52.2h.1M226.1,52.7h.1M226.2,51.6h.1M225.8,52.8h.1M226.2,51.9h.1M225.7,52.1h.1M225.7,52.4h.1M226.3,52.6h.1M226.1,52.1h.1M226.1,53.4h.1M226.4,52.6h.1M226.2,53.2h.1M226.5,52.3h.1M226.5,52.6h.1M226.4,52.5h.1M226.3,52.7h.1M226.4,52.3h.1M226.3,53.1h.1M226.2,52.5h.1M226.8,52.7h.1M226.5,52.6h.1M227,52.4h.1M226.9,53.5h.1M226.5,52.9h.1M227.1,53.2h.1M226.8,52.4h.1M226.9,52.8h.1M227.2,52.7h.1M226.6,53.2h.1M227,52.9h.1M226.7,53.2h.1M227.2,52.7h.1M227.3,53.4h.1M226.8,53.4h.1M226.8,52.6h.1M227.3,53h.1M227.1,53.2h.1M227.5,53.5h.1M226.7,53.2h.1M227.2,52.9h.1M227.5,52.7h.1M227.3,53.3h.1M227.3,52.6h.1M227.4,53h.1M227.6,52.7h.1M227.4,51.5h.1M227.7,52h.1M227.8,52.1h.1M227.3,51.3h.1M227.3,52.2h.1M227.3,51.3h.1M228,52.1h.1M227.4,52.3h.1M228,52.1h.1M227.5,52.4h.1M227.8,52.2h.1M228.4,52.6h.1M228.3,51.7h.1M227.9,52.2h.1M227.6,52.6h.1M227.9,51.4h.1M228,51.2h.1M228.5,51.4h.1M228.3,51h.1M227.9,50.6h.1M228.7,51.1h.1M228.7,50h.1M228.2,49.4h.1M228.5,49.5h.1M228.5,49.4h.1M228.7,48.9h.1M228.9,48.3h.1M229,48.5h.1M228.3,47.9h.1M228.8,48.1h.1M228.9,48h.1M228.6,48.7h.1M228.7,48.7h.1M229.2,48.6h.1M228.9,49.2h.1M229,49.3h.1M228.7,48.8h.1M229.2,48.4h.1M229.5,48.2h.1M229.3,48h.1M229.6,48.2h.1M229.6,47.8h.1M229.5,47.8h.1M229.2,46.8h.1M229.7,46.4h.1M229.8,46.3h.1M229.2,45.9h.1M229.8,46.8h.1M229.5,46.1h.1M229.4,46.2h.1M229.9,44.9h.1M229.3,45.4h.1M229.4,45.3h.1M229.6,44.1h.1M229.9,43.9h.1M230,43.3h.1M230.3,43.2h.1M230.3,42.6h.1M230.3,43.4h.1M230,41.6h.1M230,42.1h.1M229.9,40.9h.1M229.9,39.6h.1M230.5,38.3h.1M230.5,36.8h.1M230.7,36h.1M230.8,36.5h.1M230.8,35h.1M230.3,33.1h.1M230.8,31.5h.1M231,29.4h.1M230.6,29h.1M230.8,27h.1M230.3,24.8h.1M230.6,24.2h.1M231.1,21.7h.1M231.2,19.9h.1M231,19.7h.1M230.8,19.6h.1M231.1,20.1h.1M230.9,22.4h.1M230.8,24.3h.1M230.8,26.3h.1M231,28.2h.1M231.3,30h.1M231.3,31.4h.1M231.4,31.4h.1M230.9,31.9h.1M231,32.6h.1M231.1,33h.1M231.3,33.1h.1M231.7,33.2h.1M231.3,34.7h.1M231.5,35h.1M232,34.9h.1M231.4,34.9h.1M232.1,35.6h.1M231.8,36.8h.1M231.5,37.3h.1M231.6,38h.1M231.9,38.3h.1M231.7,38.9h.1M231.7,39.1h.1M231.8,40.6h.1M232.1,41h.1M231.7,41.5h.1M232.2,41.7h.1M232.3,41.9h.1M232,42.4h.1M232,42.1h.1M231.9,42.7h.1M232.4,43h.1M232.8,43.1h.1M232.6,43.7h.1M232.6,44.9h.1M232.8,44.3h.1M232.4,45.4h.1M233.1,45h.1M232.8,46.3h.1M233,46.1h.1M233.1,46.6h.1M233.2,46.3h.1M233.3,47.2h.1M232.9,47.1h.1M232.8,48.3h.1M233.2,47.7h.1M232.9,48h.1M232.9,48.4h.1M233,49.8h.1M233.7,49.7h.1M233.2,49.6h.1M233.6,50.4h.1M233.6,50.3h.1M233.1,50.5h.1M233.7,50.9h.1M233.1,51h.1M233.4,50.4h.1M234,51.2h.1M233.8,50.7h.1M234,52h.1M234.1,51.9h.1M234,52.1h.1M233.9,51.7h.1M234.1,52.2h.1M234.2,51.6h.1M234.3,52.1h.1M234.4,51.6h.1M234.4,52.6h.1M233.8,52.8h.1M233.9,52h.1M234.1,52.1h.1M234.2,53.1h.1M234.4,52.9h.1M234.2,53h.1M234.6,52.9h.1M234.8,53.2h.1M234.3,52.2h.1M234.6,53.3h.1M234.4,53h.1M234.9,53.3h.1M234.1,52.9h.1M234.2,52.4h.1M235,52.9h.1M234.8,52.9h.1M234.6,52.6h.1M234.7,53.5h.1M235,52.7h.1M234.5,52.7h.1M235.1,52.9h.1M235.1,53.4h.1M234.7,53.3h.1M234.7,53.5h.1M234.8,52.7h.1M235.3,52.8h.1M234.7,53.6h.1M235.1,53.6h.1M234.9,53.1h.1M235.5,53.1h.1M235.5,52.7h.1M235.4,52.7h.1M235.2,52.5h.1M234.9,53.8h.1M235.2,53.5h.1M235.1,52.8h.1M235,53h.1M235.7,52.9h.1M235.3,53.3h.1M235.8,52.9h.1M235.2,52.7h.1M235.5,53h.1M235.5,52.4h.1M235.8,51.8h.1M235.7,52h.1M236.1,51.7h.1M235.7,52.5h.1M235.5,52.4h.1M236.1,52.1h.1M235.9,52.4h.1M236.3,52.4h.1M236.3,51.5h.1M235.9,51.6h.1M236.5,52.7h.1M235.8,52.3h.1M236.3,51.6h.1M236.2,52.3h.1M236.4,51.5h.1M236.6,51.3h.1M236.4,51.2h.1M236.9,51.4h.1M236.7,51.2h.1M236.4,51.4h.1M236.8,50.7h.1M236.4,49.6h.1M236.7,50.2h.1M237,49.2h.1M236.4,49.2h.1M237.1,48.4h.1M237,48.1h.1M236.7,47.6h.1M236.7,48.1h.1M237.4,49h.1M236.7,48.1h.1M237.5,48h.1M236.9,48.5h.1M236.8,48.3h.1M237.1,48.6h.1M237.6,48.6h.1M237,49.6h.1M237.3,49.3h.1M237.5,48.9h.1M237.2,47.7h.1M237.7,47.9h.1M237.5,47.9h.1M237.8,47h.1M237.5,47.6h.1M237.7,46.5h.1M237.8,46.2h.1M238,45.7h.1M238.1,46.1h.1M237.7,46.4h.1M237.6,45.2h.1M237.5,45.4h.1M238.2,45.2h.1M237.9,45.1h.1M237.7,44h.1M238.2,44.6h.1M238.2,43.9h.1M238.4,43.1h.1M238.6,43.2h.1M238.1,42.3h.1M238.6,41.9h.1M238.1,41.6h.1M238.4,39.9h.1M238.6,39.2h.1M238.1,37.4h.1M238.1,36.7h.1M238.6,36.5h.1M238.8,35.4h.1M238.6,33.8h.1M238.5,32.3h.1M239,30.8h.1M238.5,29.1h.1M239.1,27.4h.1M239.2,26.3h.1M239.1,24.6h.1M239.1,23.1h.1M238.7,21.4h.1M239.2,19.8h.1M238.9,19h.1M239.2,21.7h.1M239,22.6h.1M239,23.9h.1M239.4,27h.1M239.6,29h.1M239.5,30.3h.1M239.7,31.1h.1M239,32h.1M239.2,32h.1M239.1,32.7h.1M239.6,33.6h.1M239.2,34.1h.1M239.3,33.6h.1M239.8,34.2h.1M239.6,34.9h.1M239.6,35.7h.1M239.6,36.3h.1M240.2,36.5h.1M239.5,37.4h.1M239.6,37.7h.1M240,37.6h.1M240.2,39.1h.1M240.2,39.1h.1M240.2,40h.1M240,40.8h.1M240.7,41.1h.1M240.7,40.9h.1M240.8,40.9h.1M240.4,41.4h.1M240.4,42.5h.1M240.7,42.6h.1M240.4,42.6h.1M240.5,43.1h.1M240.3,44.2h.1M240.7,44.1h.1M240.4,44.9h.1M240.5,44.7h.1M240.8,45.7h.1M241.3,46.1h.1M241.3,46.7h.1M241.1,46.8h.1M240.6,46.4h.1M240.6,47.6h.1M241.3,47.6h.1M240.9,47.5h.1M240.8,48.2h.1M241.6,48h.1M240.8,48.2h.1M241.2,49.5h.1M241.6,49.1h.1M241,48.8h.1M241.1,50h.1M241.4,50.6h.1M241.9,50.6h.1M241.5,50.8h.1M241.3,50h.1M241.7,50.7h.1M241.4,50.5h.1M241.3,51.6h.1M242,51.8h.1M242.2,51.3h.1M242.1,51.4h.1M242.2,52.2h.1M241.6,51.1h.1M241.7,52h.1M241.9,51.3h.1M242.4,52.4h.1M242.1,51.5h.1M242.5,52.3h.1M241.8,52.1h.1M242.4,52.9h.1M242.3,52.7h.1M242.1,52.2h.1M242.8,52.4h.1M242.1,52.8h.1M242.1,52.3h.1M242.5,52.8h.1M242.7,53h.1M242.6,52.2h.1M242.9,52.2h.1M242.7,52.7h.1M242.9,53.2h.1M242.6,53.2h.1M243,52.9h.1M242.6,53.6h.1M243,52.4h.1M242.7,53.7h.1M242.8,52.8h.1M243.3,53.5h.1M243.2,53.3h.1M242.7,52.4h.1M243.6,53.4h.1M242.8,52.4h.1M243.1,53.6h.1M242.8,53.3h.1M243.5,53.3h.1M243.5,52.7h.1M242.9,52.4h.1M243.4,52.6h.1M243.7,53.5h.1M243,53.6h.1M243,53.2h.1M243,53.6h.1M243.8,53.7h.1M243,53.5h.1M243.6,53.4h.1M243.6,53h.1M243.7,53.2h.1M243.3,52h.1M243.7,52.3h.1M243.6,51.7h.1M244,51.5h.1M244.1,52.4h.1M243.8,51.2h.1M244.1,51.3h.1M243.9,51.2h.1M244.4,51.9h.1M243.9,51.4h.1M244.3,52.6h.1M244.5,51.5h.1M244.1,51.8h.1M244.5,51.6h.1M244.4,52.8h.1M244.6,51.5h.1M244,51.6h.1M244.6,52.1h.1M244.5,51.7h.1M244.4,51.7h.1M244.7,51.9h.1M244.8,51.5h.1M245,51.4h.1M244.9,50h.1M244.9,50.9h.1M244.7,50.6h.1M244.5,50.4h.1M244.8,49.7h.1M244.7,48.8h.1M244.8,48.5h.1M244.6,48.4h.1M245.5,48.4h.1M245.5,48.6h.1M245.4,49h.1M245.4,48.1h.1M245,48.3h.1M244.8,48.1h.1M245.6,49.2h.1M245.2,49.1h.1M245.6,49.4h.1M245.7,49.1h.1M245.1,49.3h.1M245.4,48.7h.1M245.4,48.2h.1M246,47.4h.1M245.7,47.8h.1M245.7,47.9h.1M245.7,47.6h.1M246,47.4h.1M245.5,46.1h.1M245.7,46.8h.1M245.5,45.7h.1M246.2,46.4h.1M245.7,45.4h.1M246.2,45.5h.1M246.3,45.2h.1M245.9,44.2h.1M245.8,44.5h.1M246,43.6h.1M246.7,43.8h.1M246.4,43.4h.1M246.5,43.1h.1M246.2,41.8h.1M246.1,41.3h.1M246.4,40.5h.1M246.2,39.7h.1M247,38.8h.1M246.4,37.9h.1M246.4,36.1h.1M246.5,35.8h.1M246.9,35h.1M247,32.9h.1M247.2,31.4h.1M247.2,29.5h.1M247.2,28.3h.1M247.3,27.6h.1M247.2,25.2h.1M246.6,23.5h.1M247.5,21.8h.1M247.3,20.9h.1M247.4,18.9h.1M246.9,18.7h.1M247.7,20.9h.1M247.5,22.8h.1M247.1,23.6h.1M247,26.6h.1M247.1,29.6h.1M247.4,31h.1M247.2,31.6h.1M247.4,31.5h.1M247.7,31.6h.1M247.5,33h.1M247.6,32.9h.1M248,33.1h.1M247.6,33.5h.1M247.8,34.1h.1M248.1,34.7h.1M248.3,34.5h.1M248.2,36.1h.1M247.8,35.6h.1M248.1,36.3h.1M248.1,37.8h.1M247.8,37.5h.1M248.2,38.2h.1M248,39.1h.1M248,39.1h.1M248.2,40.2h.1M248.8,40.7h.1M248.1,40.6h.1M248.7,41.5h.1M248.9,42.4h.1M248.9,41.6h.1M249,42.6h.1M248.5,42.5h.1M249.1,43h.1M248.4,43.4h.1M249.2,44.1h.1M249.1,44h.1M248.9,44.7h.1M248.7,45.6h.1M248.9,45.2h.1M249.5,46h.1M248.8,45.7h.1M249.3,46.8h.1M248.7,47h.1M249.4,47.5h.1M249,47.7h.1M249.4,48.2h.1M249,48.7h.1M249.8,48.9h.1M249.8,48.7h.1M249.8,48.7h.1M249.3,49.5h.1M249.9,49h.1M249.4,49.2h.1M249.6,49.6h.1M249.4,50.7h.1M249.8,51.1h.1M249.7,50.9h.1M249.4,51.5h.1M249.6,51h.1M249.9,51.8h.1M250,52h.1M250.1,51.1h.1M250.4,51.3h.1M250.6,51.7h.1M249.9,52.5h.1M250,51.8h.1M250.1,52.3h.1M249.9,51.9h.1M250,52.7h.1M249.9,52.4h.1M250.2,52.3h.1M250.5,52.8h.1M250.2,52.2h.1M250.2,53.2h.1M250.3,52.1h.1M250.7,52.8h.1M251,52.1h.1M250.5,52.3h.1M250.9,52.7h.1M250.7,53.4h.1M251,53.4h.1M251.3,52.6h.1M251.4,52.8h.1M250.6,53.6h.1M250.7,52.3h.1M250.9,52.7h.1M251.6,53.5h.1M251.1,53h.1M251.5,53.4h.1M251.4,53h.1M251,52.6h.1M251.5,53.1h.1M251.7,53.6h.1M251.9,52.6h.1M250.8,53.6h.1M251.3,52.6h.1M251.5,52.7h.1M251.1,52.9h.1M251.4,53.4h.1M251,53.5h.1M251.6,53.1h.1M251.7,53.6h.1M251.1,53.2h.1M251.8,53.4h.1M251.8,52.6h.1M252.1,53.3h.1M251.5,52.7h.1M252.2,52.3h.1M251.7,53.3h.1M252.2,52.2h.1M252.1,52.1h.1M252.1,52.5h.1M251.7,51.5h.1M251.8,51.4h.1M251.7,51.1h.1M252,51.6h.1M251.8,52h.1M252.6,52.1h.1M252.1,52.3h.1M252.2,51.6h.1M252.3,51.4h.1M252.6,51.6h.1M252.3,52.8h.1M252.7,52.6h.1M252.7,52.3h.1M252.8,52.6h.1M252.3,52.1h.1M252.5,51.2h.1M253,51.4h.1M253.1,51.6h.1M252.9,50.4h.1M252.4,50.7h.1M253.1,50h.1M252.5,49.3h.1M252.7,49.9h.1M252.6,48.9h.1M252.8,49.3h.1M253.5,48h.1M252.8,49h.1M253.6,47.6h.1M253.1,48.1h.1M253.1,48.1h.1M253.3,47.9h.1M253,47.7h.1M253.1,47.8h.1M253.6,48.8h.1M253.3,49.1h.1M253.8,48.6h.1M253.6,48.5h.1M254,48.8h.1M253.3,47.9h.1M253.9,47.9h.1M254,47.4h.1M254.1,47.8h.1M253.5,47.2h.1M253.6,47.1h.1M254.2,47h.1M253.8,45.7h.1M254.2,46.1h.1M253.8,45.4h.1M254.2,45h.1M254.3,44.9h.1M254,44.9h.1M254.3,45h.1M253.9,44.6h.1M254.1,43.7h.1M254.5,43.9h.1M254.5,43.8h.1M254.2,42.6h.1M254.7,42.1h.1M254.3,41.7h.1M254.9,42.1h.1M254.9,41.3h.1M255,39.1h.1M254.6,38.4h.1M254.4,37.2h.1M254.5,35.6h.1M254.9,34.9h.1M255.3,35.1h.1M254.9,32.5h.1M254.7,31.1h.1M255.1,29.3h.1M255.3,28h.1M255.4,25.8h.1M254.8,24.6h.1M255.2,22.7h.1M255.4,21h.1M255.2,19.8h.1M255.6,18.7h.1M255.3,18.2h.1M255.8,20.7h.1M255.6,21.3h.1M255.5,23.6h.1M255.4,24.7h.1M256.1,28.8h.1M255.4,30h.1M255.8,30.3h.1M255.4,31.4h.1M256.1,31.4h.1M255.5,31.8h.1M255.5,33.1h.1M255.6,32.6h.1M256.2,32.8h.1M255.7,33.1h.1M255.8,34.2h.1M256.4,34.1h.1M255.9,35.5h.1M256.2,35.5h.1M255.9,36.1h.1M256.7,36.5h.1M256.1,38h.1M256.8,38.8h.1M256.4,39.4h.1M256.6,39h.1M256.5,40.1h.1M256.8,39.7h.1M256.3,41.3h.1M256.3,41.5h.1M256.6,41.1h.1M256.5,41.8h.1M257.2,41.8h.1M257.2,42.4h.1M256.6,43.4h.1M256.8,43.1h.1M256.9,44.4h.1M257.4,44.4h.1M256.6,45.1h.1M257.2,45.7h.1M257.6,45.3h.1M257.5,46.3h.1M257,46h.1M257.2,46.3h.1M257.2,46.4h.1M257.1,47.8h.1M257.3,47.7h.1M257.8,48.2h.1M257.3,48.7h.1M257.8,49.1h.1M257.8,49.1h.1M257.9,48.7h.1M257.8,49.1h.1M258,49h.1M257.8,49.5h.1M258.1,49.8h.1M258.2,50.7h.1M258.3,49.9h.1M258.4,51h.1M258.2,51h.1M257.6,51.5h.1M258.1,51.1h.1M258,51.7h.1M258.4,52h.1M258,51.4h.1M258,51.2h.1M258.2,51.2h.1M258.6,51.5h.1M258,51.4h.1M258.7,51.7h.1M258.5,52h.1M258.8,52.9h.1M258.4,52.6h.1M259,52.4h.1M259,52.9h.1M258.5,53.1h.1M258.8,52.1h.1M258.9,53.1h.1M258.9,52.7h.1M258.8,53.3h.1M259.1,52.4h.1M258.9,52.6h.1M259.4,53.1h.1M258.7,53.5h.1M258.7,53.1h.1M259.1,53.3h.1M259.1,52.4h.1M259.3,53.4h.1M259.1,53.3h.1M259.4,52.8h.1M259.3,52.7h.1M259.5,53.3h.1" fill="none" stroke="#2638a8" stroke-width="1.7" stroke-linecap="round" opacity="0.9"/>
<text x="156" y="19.6" font-size="9.9" font-weight="bold" textLength="7.6" lengthAdjust="spacingAndGlyphs">10</text>
<text x="164" y="15.1" font-size="5.5" font-weight="bold" textLength="3" lengthAdjust="spacingAndGlyphs">5</text>
<text x="156" y="47.4" font-size="9.9" font-weight="bold" textLength="7.6" lengthAdjust="spacingAndGlyphs">10</text>
<text x="164" y="42.9" font-size="5.5" font-weight="bold" textLength="3" lengthAdjust="spacingAndGlyphs">4</text>
<text x="156" y="74.8" font-size="9.9" font-weight="bold" textLength="7.6" lengthAdjust="spacingAndGlyphs">10</text>
<text x="164" y="70.3" font-size="5.5" font-weight="bold" textLength="3" lengthAdjust="spacingAndGlyphs">3</text>
<text x="170.6" y="79.6" font-size="9.8" font-weight="bold" text-anchor="middle" textLength="5.4" lengthAdjust="spacingAndGlyphs">0</text>
<text x="208.2" y="79.6" font-size="9.8" font-weight="bold" text-anchor="middle" textLength="19.5" lengthAdjust="spacingAndGlyphs">1000</text>
<text x="246" y="79.6" font-size="9.8" font-weight="bold" text-anchor="middle" textLength="19.5" lengthAdjust="spacingAndGlyphs">2000</text>
<text x="179" y="89.6" font-size="9.6" font-weight="bold" textLength="77.5" lengthAdjust="spacingAndGlyphs">Number of pulses</text>
<text x="156.4" y="82.5" font-size="10.4" font-weight="bold" textLength="78.6" lengthAdjust="spacingAndGlyphs" transform="rotate(-90 156.4 82.5)">Resistance (Ohm)</text>
<ellipse cx="255.7" cy="35.8" rx="6.8" ry="27" fill="none" stroke="#e4372b" stroke-width="1.3"/>
<path d="M129,57.5 L255.5,8.5" stroke="#e4372b" stroke-width="1.6" stroke-dasharray="6,4.5" fill="none"/>
<path d="M181.2,138.5 L254,63.5" stroke="#e4372b" stroke-width="1.6" stroke-dasharray="6,4.5" fill="none"/>
<path d="M147.2,102.8 V96 Q147.2,94.6 148.8,94.6 Q150.5,94.6 150.5,96 V102.8 M153.4,102.8 V97 Q153.4,95.6 155.1,95.6 Q156.7,95.6 156.7,97 V102.8 M159.5,102.8 V93.6 Q159.5,92.2 161.2,92.2 Q162.8,92.2 162.8,93.6 V102.8 M166,102.8 V92.7 Q166,91.3 167.7,91.3 Q169.3,91.3 169.3,92.7 V102.8 M173.3,102.8 V91 Q173.3,89.6 175,89.6 Q176.6,89.6 176.6,91 V102.8 M179.4,102.8 V90.5 Q179.4,89.1 181.1,89.1 Q182.7,89.1 182.7,90.5 V102.8 " fill="none" stroke="#2c3ea6" stroke-width="1.3"/>
<text x="291.6" y="30.6" font-size="14.5" font-weight="bold" textLength="20.8" lengthAdjust="spacingAndGlyphs" fill="#222">(b)</text>
<rect x="329.8" y="24.2" width="210.8" height="153.5" fill="none" stroke="#222" stroke-width="1.5"/>
<path d="M329.8,126.6 h3" stroke="#222" stroke-width="1.1"/>
<path d="M329.8,53.1 h3" stroke="#222" stroke-width="1.1"/>
<path d="M329.8,163.3 h2" stroke="#222" stroke-width="1"/>
<path d="M329.8,89.8 h2" stroke="#222" stroke-width="1"/>
<path d="M329.7,177.7 v-3" stroke="#222" stroke-width="1.1"/>
<path d="M367.9,177.7 v-3" stroke="#222" stroke-width="1.1"/>
<path d="M406.1,177.7 v-3" stroke="#222" stroke-width="1.1"/>
<path d="M444.3,177.7 v-3" stroke="#222" stroke-width="1.1"/>
<path d="M482.5,177.7 v-3" stroke="#222" stroke-width="1.1"/>
<path d="M520.7,177.7 v-3" stroke="#222" stroke-width="1.1"/>
<path d="M348.8,177.7 v-2" stroke="#222" stroke-width="1"/>
<path d="M387,177.7 v-2" stroke="#222" stroke-width="1"/>
<path d="M425.2,177.7 v-2" stroke="#222" stroke-width="1"/>
<path d="M463.4,177.7 v-2" stroke="#222" stroke-width="1"/>
<path d="M501.6,177.7 v-2" stroke="#222" stroke-width="1"/>
<path d="M539.8,177.7 v-2" stroke="#222" stroke-width="1"/>
<text x="329.7" y="190.8" font-size="10.8" text-anchor="middle" fill="#1a1a1a">0</text>
<text x="367.9" y="190.8" font-size="10.8" text-anchor="middle" fill="#1a1a1a">20</text>
<text x="406.1" y="190.8" font-size="10.8" text-anchor="middle" fill="#1a1a1a">40</text>
<text x="444.3" y="190.8" font-size="10.8" text-anchor="middle" fill="#1a1a1a">60</text>
<text x="482.5" y="190.8" font-size="10.8" text-anchor="middle" fill="#1a1a1a">80</text>
<text x="520.7" y="190.8" font-size="10.8" text-anchor="middle" fill="#1a1a1a">100</text>
<text x="327.2" y="57" font-size="10.8" text-anchor="end" textLength="32.6" lengthAdjust="spacingAndGlyphs" fill="#1a1a1a">100.0k</text>
<text x="327.2" y="130.6" font-size="10.8" text-anchor="end" textLength="27.2" lengthAdjust="spacingAndGlyphs" fill="#1a1a1a">50.0k</text>
<text x="289.7" y="136.2" font-size="10.8" textLength="71" lengthAdjust="spacingAndGlyphs" fill="#1a1a1a" transform="rotate(-90 289.7 136.2)">Resistance (Ω)</text>
<text x="400.4" y="208.2" font-size="11" textLength="70" lengthAdjust="spacingAndGlyphs" fill="#1a1a1a">Pulse Number</text>
<rect x="425.8" y="29.2" width="106.4" height="28.2" fill="#fff" stroke="#888" stroke-width="0.9"/>
<path d="M429.8,36.7 H454.7" stroke="#9aa6e6" stroke-width="1.1"/>
<rect x="440.6" y="35.1" width="3.2" height="3.2" fill="#2a3db0"/>
<path d="M429.8,50.5 H454.7" stroke="#f27e78" stroke-width="0.9"/>
<circle cx="442.2" cy="50.5" r="1.9" fill="#e3281e"/>
<text x="457.8" y="40.4" font-size="10.8" textLength="71.2" lengthAdjust="spacingAndGlyphs" fill="#1a1a1a">Gradual Reset</text>
<text x="457.8" y="54.2" font-size="10.8" textLength="60" lengthAdjust="spacingAndGlyphs" fill="#1a1a1a">Gradual Set</text>
<polyline points="329.6,146.2 331.7,146.2 333.6,146.2 335.7,146.2 337.7,134 339.6,136.2 341.7,126.2 343.5,95 345.5,83.5" fill="none" stroke="#9aa6e6" stroke-width="1"/>
<polyline points="364.5,165.5 366.5,165.5 368.5,165.5 370.3,159.5 372.2,143 374,128.5 375.8,122.9 377.7,83.5 379.7,91.2" fill="none" stroke="#9aa6e6" stroke-width="1"/>
<polyline points="398.7,158.7 401,161.6 402.8,163.6 404.3,147.1 406.6,143.7 408.7,108.4 410.2,98.7 412.3,63.5 414.2,65.7" fill="none" stroke="#9aa6e6" stroke-width="1"/>
<polyline points="433.7,154.9 435.2,143.7 437,140.7 439.2,131 440.7,122.7 442.5,111 444.5,87.4 446.3,72.7 448.2,79.2" fill="none" stroke="#9aa6e6" stroke-width="1"/>
<polyline points="467.6,159.6 469.6,161.6 471.6,141.4 473.4,128.6 475,127.6 477.4,111.4 479.2,93.7 480.5,80.5 482.5,79" fill="none" stroke="#9aa6e6" stroke-width="1"/>
<polyline points="502.4,156.1 503.8,137 506.2,137.5 507.5,144.5 509.5,120.8 511.8,112 513.8,99.3 515.5,86.3 517,80" fill="none" stroke="#9aa6e6" stroke-width="1"/>
<polyline points="347.5,78 349.5,80.5 351.5,79.5 353,136.9 354.9,139.4 356.6,148 358.7,156.5 360.5,164.5 362.5,167.5" fill="none" stroke="#f27e78" stroke-width="0.9"/>
<polyline points="381.8,86 383.7,86.2 385.6,84.7 387.2,126.8 389.3,131 391.2,139.6 393.2,153.4 395,160.1 396.8,162.4" fill="none" stroke="#f27e78" stroke-width="0.9"/>
<polyline points="415.7,59 417.7,57.5 419.8,56.7 422.2,77.7 424.2,114.8 425.7,131.5 427.6,148.2 429.3,156.4 431.3,160.6" fill="none" stroke="#f27e78" stroke-width="0.9"/>
<polyline points="450.2,74.2 452.3,78 454.2,80.7 456,92.2 458.1,111.5 459.7,132.5 461.7,151.2 463.6,158.7 465.4,163.9" fill="none" stroke="#f27e78" stroke-width="0.9"/>
<polyline points="484.8,81.8 486.5,78 488.5,74.2 490.8,76.5 492.8,76.2 494.4,92 496,130.4 498,147 499.7,155.5" fill="none" stroke="#f27e78" stroke-width="0.9"/>
<polyline points="519.5,67 521.2,68.8 523,67 525,73.8 527,74.3 528.8,102.5 530.5,136.3 532,137.5 533.8,138.8" fill="none" stroke="#f27e78" stroke-width="0.9"/>
<g fill="#2a3db0"><rect x="327.8" y="144.4" width="3.6" height="3.6"/><rect x="329.9" y="144.4" width="3.6" height="3.6"/><rect x="331.8" y="144.4" width="3.6" height="3.6"/><rect x="333.9" y="144.4" width="3.6" height="3.6"/><rect x="335.9" y="132.2" width="3.6" height="3.6"/><rect x="337.8" y="134.4" width="3.6" height="3.6"/><rect x="339.9" y="124.4" width="3.6" height="3.6"/><rect x="341.7" y="93.2" width="3.6" height="3.6"/><rect x="343.7" y="81.7" width="3.6" height="3.6"/></g>
<g fill="#2a3db0"><rect x="362.7" y="163.7" width="3.6" height="3.6"/><rect x="364.7" y="163.7" width="3.6" height="3.6"/><rect x="366.7" y="163.7" width="3.6" height="3.6"/><rect x="368.5" y="157.7" width="3.6" height="3.6"/><rect x="370.4" y="141.2" width="3.6" height="3.6"/><rect x="372.2" y="126.7" width="3.6" height="3.6"/><rect x="374" y="121.1" width="3.6" height="3.6"/><rect x="375.9" y="81.7" width="3.6" height="3.6"/><rect x="377.9" y="89.4" width="3.6" height="3.6"/></g>
<g fill="#2a3db0"><rect x="396.9" y="156.9" width="3.6" height="3.6"/><rect x="399.2" y="159.8" width="3.6" height="3.6"/><rect x="401" y="161.8" width="3.6" height="3.6"/><rect x="402.5" y="145.3" width="3.6" height="3.6"/><rect x="404.8" y="141.9" width="3.6" height="3.6"/><rect x="406.9" y="106.6" width="3.6" height="3.6"/><rect x="408.4" y="96.9" width="3.6" height="3.6"/><rect x="410.5" y="61.7" width="3.6" height="3.6"/><rect x="412.4" y="63.9" width="3.6" height="3.6"/></g>
<g fill="#2a3db0"><rect x="431.9" y="153.1" width="3.6" height="3.6"/><rect x="433.4" y="141.9" width="3.6" height="3.6"/><rect x="435.2" y="138.9" width="3.6" height="3.6"/><rect x="437.4" y="129.2" width="3.6" height="3.6"/><rect x="438.9" y="120.9" width="3.6" height="3.6"/><rect x="440.7" y="109.2" width="3.6" height="3.6"/><rect x="442.7" y="85.6" width="3.6" height="3.6"/><rect x="444.5" y="70.9" width="3.6" height="3.6"/><rect x="446.4" y="77.4" width="3.6" height="3.6"/></g>
<g fill="#2a3db0"><rect x="465.8" y="157.8" width="3.6" height="3.6"/><rect x="467.8" y="159.8" width="3.6" height="3.6"/><rect x="469.8" y="139.6" width="3.6" height="3.6"/><rect x="471.6" y="126.8" width="3.6" height="3.6"/><rect x="473.2" y="125.8" width="3.6" height="3.6"/><rect x="475.6" y="109.6" width="3.6" height="3.6"/><rect x="477.4" y="91.9" width="3.6" height="3.6"/><rect x="478.7" y="78.7" width="3.6" height="3.6"/><rect x="480.7" y="77.2" width="3.6" height="3.6"/></g>
<g fill="#2a3db0"><rect x="500.6" y="154.3" width="3.6" height="3.6"/><rect x="502" y="135.2" width="3.6" height="3.6"/><rect x="504.4" y="135.7" width="3.6" height="3.6"/><rect x="505.7" y="142.7" width="3.6" height="3.6"/><rect x="507.7" y="119" width="3.6" height="3.6"/><rect x="510" y="110.2" width="3.6" height="3.6"/><rect x="512" y="97.5" width="3.6" height="3.6"/><rect x="513.7" y="84.5" width="3.6" height="3.6"/><rect x="515.2" y="78.2" width="3.6" height="3.6"/></g>
<g fill="#e3281e"><circle cx="347.5" cy="78" r="2.1"/><circle cx="349.5" cy="80.5" r="2.1"/><circle cx="351.5" cy="79.5" r="2.1"/><circle cx="353" cy="136.9" r="2.1"/><circle cx="354.9" cy="139.4" r="2.1"/><circle cx="356.6" cy="148" r="2.1"/><circle cx="358.7" cy="156.5" r="2.1"/><circle cx="360.5" cy="164.5" r="2.1"/><circle cx="362.5" cy="167.5" r="2.1"/></g>
<g fill="#e3281e"><circle cx="381.8" cy="86" r="2.1"/><circle cx="383.7" cy="86.2" r="2.1"/><circle cx="385.6" cy="84.7" r="2.1"/><circle cx="387.2" cy="126.8" r="2.1"/><circle cx="389.3" cy="131" r="2.1"/><circle cx="391.2" cy="139.6" r="2.1"/><circle cx="393.2" cy="153.4" r="2.1"/><circle cx="395" cy="160.1" r="2.1"/><circle cx="396.8" cy="162.4" r="2.1"/></g>
<g fill="#e3281e"><circle cx="415.7" cy="59" r="2.1"/><circle cx="417.7" cy="57.5" r="2.1"/><circle cx="419.8" cy="56.7" r="2.1"/><circle cx="422.2" cy="77.7" r="2.1"/><circle cx="424.2" cy="114.8" r="2.1"/><circle cx="425.7" cy="131.5" r="2.1"/><circle cx="427.6" cy="148.2" r="2.1"/><circle cx="429.3" cy="156.4" r="2.1"/><circle cx="431.3" cy="160.6" r="2.1"/></g>
<g fill="#e3281e"><circle cx="450.2" cy="74.2" r="2.1"/><circle cx="452.3" cy="78" r="2.1"/><circle cx="454.2" cy="80.7" r="2.1"/><circle cx="456" cy="92.2" r="2.1"/><circle cx="458.1" cy="111.5" r="2.1"/><circle cx="459.7" cy="132.5" r="2.1"/><circle cx="461.7" cy="151.2" r="2.1"/><circle cx="463.6" cy="158.7" r="2.1"/><circle cx="465.4" cy="163.9" r="2.1"/></g>
<g fill="#e3281e"><circle cx="484.8" cy="81.8" r="2.1"/><circle cx="486.5" cy="78" r="2.1"/><circle cx="488.5" cy="74.2" r="2.1"/><circle cx="490.8" cy="76.5" r="2.1"/><circle cx="492.8" cy="76.2" r="2.1"/><circle cx="494.4" cy="92" r="2.1"/><circle cx="496" cy="130.4" r="2.1"/><circle cx="498" cy="147" r="2.1"/><circle cx="499.7" cy="155.5" r="2.1"/></g>
<g fill="#e3281e"><circle cx="519.5" cy="67" r="2.1"/><circle cx="521.2" cy="68.8" r="2.1"/><circle cx="523" cy="67" r="2.1"/><circle cx="525" cy="73.8" r="2.1"/><circle cx="527" cy="74.3" r="2.1"/><circle cx="528.8" cy="102.5" r="2.1"/><circle cx="530.5" cy="136.3" r="2.1"/><circle cx="532" cy="137.5" r="2.1"/><circle cx="533.8" cy="138.8" r="2.1"/></g>
<text x="16.6" y="208.2" font-size="15.5" font-weight="bold" textLength="19.2" lengthAdjust="spacingAndGlyphs" fill="#222">(c)</text>
<rect x="54" y="218.6" width="217.2" height="149.4" fill="none" stroke="#333" stroke-width="1.2"/>
<path d="M52.4,368 h3.0" stroke="#333" stroke-width="0.8"/>
<path d="M53.2,352.9 h2.0" stroke="#333" stroke-width="0.8"/>
<path d="M53.2,344.1 h2.0" stroke="#333" stroke-width="0.8"/>
<path d="M53.2,337.9 h2.0" stroke="#333" stroke-width="0.8"/>
<path d="M53.2,333.1 h2.0" stroke="#333" stroke-width="0.8"/>
<path d="M53.2,329.1 h2.0" stroke="#333" stroke-width="0.8"/>
<path d="M53.2,325.7 h2.0" stroke="#333" stroke-width="0.8"/>
<path d="M53.2,322.8 h2.0" stroke="#333" stroke-width="0.8"/>
<path d="M53.2,320.3 h2.0" stroke="#333" stroke-width="0.8"/>
<path d="M52.4,318 h3.0" stroke="#333" stroke-width="0.8"/>
<path d="M53.2,302.9 h2.0" stroke="#333" stroke-width="0.8"/>
<path d="M53.2,294.1 h2.0" stroke="#333" stroke-width="0.8"/>
<path d="M53.2,287.9 h2.0" stroke="#333" stroke-width="0.8"/>
<path d="M53.2,283.1 h2.0" stroke="#333" stroke-width="0.8"/>
<path d="M53.2,279.1 h2.0" stroke="#333" stroke-width="0.8"/>
<path d="M53.2,275.7 h2.0" stroke="#333" stroke-width="0.8"/>
<path d="M53.2,272.8 h2.0" stroke="#333" stroke-width="0.8"/>
<path d="M53.2,270.3 h2.0" stroke="#333" stroke-width="0.8"/>
<path d="M52.4,268 h3.0" stroke="#333" stroke-width="0.8"/>
<path d="M53.2,252.9 h2.0" stroke="#333" stroke-width="0.8"/>
<path d="M53.2,244.1 h2.0" stroke="#333" stroke-width="0.8"/>
<path d="M53.2,237.9 h2.0" stroke="#333" stroke-width="0.8"/>
<path d="M53.2,233.1 h2.0" stroke="#333" stroke-width="0.8"/>
<path d="M53.2,229.1 h2.0" stroke="#333" stroke-width="0.8"/>
<path d="M53.2,225.7 h2.0" stroke="#333" stroke-width="0.8"/>
<path d="M53.2,222.8 h2.0" stroke="#333" stroke-width="0.8"/>
<path d="M53.2,220.3 h2.0" stroke="#333" stroke-width="0.8"/>
<path d="M126.6,368 v-2" stroke="#333" stroke-width="0.8"/>
<path d="M198.9,368 v-2" stroke="#333" stroke-width="0.8"/>
<text x="45.6" y="221.8" font-size="9.0" font-weight="bold" text-anchor="end" textLength="32.2" lengthAdjust="spacingAndGlyphs">200000</text>
<text x="45.6" y="271.6" font-size="9.0" font-weight="bold" text-anchor="end" textLength="26.8" lengthAdjust="spacingAndGlyphs">20000</text>
<text x="45.6" y="321.4" font-size="9.0" font-weight="bold" text-anchor="end" textLength="21.4" lengthAdjust="spacingAndGlyphs">2000</text>
<text x="45.6" y="371.2" font-size="9.0" font-weight="bold" text-anchor="end" textLength="16.2" lengthAdjust="spacingAndGlyphs">200</text>
<text x="54.3" y="382.2" font-size="8.6" font-weight="bold" text-anchor="middle" textLength="5" lengthAdjust="spacingAndGlyphs">0</text>
<text x="126.6" y="382.2" font-size="8.6" font-weight="bold" text-anchor="middle" textLength="10.4" lengthAdjust="spacingAndGlyphs">10</text>
<text x="198.9" y="382.2" font-size="8.6" font-weight="bold" text-anchor="middle" textLength="10.4" lengthAdjust="spacingAndGlyphs">20</text>
<text x="271.2" y="382.2" font-size="8.6" font-weight="bold" text-anchor="middle" textLength="10.4" lengthAdjust="spacingAndGlyphs">30</text>
<text x="102" y="396.5" font-size="8.3" font-weight="bold" textLength="134.5" lengthAdjust="spacingAndGlyphs">Number of potentiating pulse</text>
<text x="9" y="331.7" font-size="8.8" font-weight="bold" textLength="62.7" lengthAdjust="spacingAndGlyphs" transform="rotate(-90 9 331.7)">Resistance [Ω]</text>
<path d="M54.3,230.6 C55,244.8 57.6,299.9 58.8,316 C60,332.1 59.9,324.7 61.5,327.2 C63.2,329.7 66.3,329.3 68.8,330.9 C71.2,332.5 73.6,335.4 76,336.9 C78.4,338.4 80.8,339.2 83.2,339.9 C85.6,340.6 88,340.7 90.5,341.1 C92.9,341.5 95.3,341.7 97.7,342.1 C100.1,342.5 102.5,343.1 104.9,343.6 C107.3,344.1 109.7,344.7 112.1,345.1 C114.5,345.5 117,345.7 119.4,345.9 C121.8,346.1 124.2,346.2 126.6,346.3 C129,346.4 131.4,346.5 133.8,346.6 C136.2,346.7 138.7,346.8 141.1,347 C143.5,347.1 145.9,347.2 148.3,347.3 C150.7,347.4 153.1,347.5 155.5,347.6 C157.9,347.7 160.3,347.8 162.8,347.8 C165.2,347.9 167.6,348 170,348.1 C172.4,348.2 174.8,348.3 177.2,348.4 C179.6,348.4 182,348.5 184.4,348.6 C186.8,348.6 189.3,348.7 191.7,348.8 C194.1,348.8 196.5,348.8 198.9,348.9 C201.3,349 203.7,349.1 206.1,349.2 C208.5,349.3 211,349.4 213.4,349.4 C215.8,349.5 218.2,349.6 220.6,349.7 C223,349.8 225.4,349.9 227.8,350 C230.2,350.1 232.6,350.2 235.1,350.2 C237.5,350.3 239.9,350.4 242.3,350.5 C244.7,350.6 247.1,350.7 249.5,350.8 C251.9,350.9 254.3,351 256.7,351.1 C259.2,351.1 261.6,351.2 264,351.3 C266.4,351.4 270,351.6 271.2,351.6 " fill="none" stroke="#f79646" stroke-width="0.95"/>
<g fill="none" stroke="#f79646" stroke-width="0.8"><path d="M59.7,328.4 l1.8,-3 l1.8,3 z"/><path d="M67,332.1 l1.8,-3 l1.8,3 z"/><path d="M74.2,338.1 l1.8,-3 l1.8,3 z"/><path d="M81.4,341.1 l1.8,-3 l1.8,3 z"/><path d="M88.7,342.3 l1.8,-3 l1.8,3 z"/><path d="M95.9,343.3 l1.8,-3 l1.8,3 z"/><path d="M103.1,344.8 l1.8,-3 l1.8,3 z"/><path d="M110.3,346.3 l1.8,-3 l1.8,3 z"/><path d="M117.6,347.1 l1.8,-3 l1.8,3 z"/><path d="M124.8,347.5 l1.8,-3 l1.8,3 z"/><path d="M132,347.8 l1.8,-3 l1.8,3 z"/><path d="M139.3,348.2 l1.8,-3 l1.8,3 z"/><path d="M146.5,348.5 l1.8,-3 l1.8,3 z"/><path d="M153.7,348.8 l1.8,-3 l1.8,3 z"/><path d="M160.9,349 l1.8,-3 l1.8,3 z"/><path d="M168.2,349.3 l1.8,-3 l1.8,3 z"/><path d="M175.4,349.6 l1.8,-3 l1.8,3 z"/><path d="M182.6,349.8 l1.8,-3 l1.8,3 z"/><path d="M189.9,350 l1.8,-3 l1.8,3 z"/><path d="M197.1,350.1 l1.8,-3 l1.8,3 z"/><path d="M204.3,350.4 l1.8,-3 l1.8,3 z"/><path d="M211.6,350.6 l1.8,-3 l1.8,3 z"/><path d="M218.8,350.9 l1.8,-3 l1.8,3 z"/><path d="M226,351.2 l1.8,-3 l1.8,3 z"/><path d="M233.2,351.4 l1.8,-3 l1.8,3 z"/><path d="M240.5,351.7 l1.8,-3 l1.8,3 z"/><path d="M247.7,352 l1.8,-3 l1.8,3 z"/><path d="M254.9,352.3 l1.8,-3 l1.8,3 z"/><path d="M262.2,352.5 l1.8,-3 l1.8,3 z"/><path d="M269.4,352.8 l1.8,-3 l1.8,3 z"/></g>
<path d="M54.3,230.6 C54.9,245.2 56.8,301.6 58,318 C59.2,334.4 59.7,326.8 61.5,328.7 C63.3,330.6 66.3,329.9 68.8,329.1 C71.2,328.4 73.6,324.4 76,324.2 C78.4,324 80.8,326.4 83.2,327.9 C85.6,329.4 88,332.1 90.5,333.2 C92.9,334.3 95.3,334.3 97.7,334.7 C100.1,335.1 102.5,335.1 104.9,335.4 C107.3,335.6 109.7,335.9 112.1,336.2 C114.5,336.4 117,336.6 119.4,336.9 C121.8,337.1 124.2,337.4 126.6,337.7 C129,338 131.4,338.4 133.8,338.7 C136.2,339.1 138.7,339.4 141.1,339.8 C143.5,340.1 145.9,340.4 148.3,340.7 C150.7,341.1 153.1,341.4 155.5,341.7 C157.9,342 160.3,342.3 162.8,342.6 C165.2,342.9 167.6,343.1 170,343.4 C172.4,343.7 174.8,343.9 177.2,344.2 C179.6,344.4 182,344.7 184.4,344.9 C186.8,345.1 189.3,345.3 191.7,345.5 C194.1,345.7 196.5,345.8 198.9,345.9 C201.3,346 203.7,346.1 206.1,346.2 C208.5,346.3 211,346.4 213.4,346.5 C215.8,346.6 218.2,346.7 220.6,346.8 C223,346.9 225.4,347 227.8,347.1 C230.2,347.2 232.6,347.3 235.1,347.4 C237.5,347.6 239.9,347.7 242.3,347.8 C244.7,347.9 247.1,348 249.5,348.1 C251.9,348.2 254.3,348.3 256.7,348.4 C259.2,348.5 261.6,348.6 264,348.7 C266.4,348.8 270,348.9 271.2,349 " fill="none" stroke="#4bacc6" stroke-width="0.95"/>
<g fill="none" stroke="#4bacc6" stroke-width="0.8"><rect x="59.8" y="327" width="3.4" height="3.4"/><rect x="67.1" y="327.4" width="3.4" height="3.4"/><rect x="74.3" y="322.5" width="3.4" height="3.4"/><rect x="81.5" y="326.2" width="3.4" height="3.4"/><rect x="88.8" y="331.5" width="3.4" height="3.4"/><rect x="96" y="333" width="3.4" height="3.4"/><rect x="103.2" y="333.7" width="3.4" height="3.4"/><rect x="110.4" y="334.5" width="3.4" height="3.4"/><rect x="117.7" y="335.2" width="3.4" height="3.4"/><rect x="124.9" y="336" width="3.4" height="3.4"/><rect x="132.1" y="337" width="3.4" height="3.4"/><rect x="139.4" y="338.1" width="3.4" height="3.4"/><rect x="146.6" y="339" width="3.4" height="3.4"/><rect x="153.8" y="340" width="3.4" height="3.4"/><rect x="161.1" y="340.9" width="3.4" height="3.4"/><rect x="168.3" y="341.7" width="3.4" height="3.4"/><rect x="175.5" y="342.5" width="3.4" height="3.4"/><rect x="182.7" y="343.2" width="3.4" height="3.4"/><rect x="190" y="343.8" width="3.4" height="3.4"/><rect x="197.2" y="344.2" width="3.4" height="3.4"/><rect x="204.4" y="344.5" width="3.4" height="3.4"/><rect x="211.7" y="344.8" width="3.4" height="3.4"/><rect x="218.9" y="345.1" width="3.4" height="3.4"/><rect x="226.1" y="345.4" width="3.4" height="3.4"/><rect x="233.4" y="345.8" width="3.4" height="3.4"/><rect x="240.6" y="346.1" width="3.4" height="3.4"/><rect x="247.8" y="346.4" width="3.4" height="3.4"/><rect x="255" y="346.7" width="3.4" height="3.4"/><rect x="262.3" y="347" width="3.4" height="3.4"/><rect x="269.5" y="347.3" width="3.4" height="3.4"/></g>
<path d="M54.3,230.6 C55.5,244.1 59.1,296.5 61.5,311.5 C63.9,326.5 66.3,318.4 68.8,320.5 C71.2,322.6 73.6,323.3 76,324.2 C78.4,325.1 80.8,325.4 83.2,326.1 C85.6,326.9 88,328.1 90.5,328.7 C92.9,329.3 95.3,329.4 97.7,329.9 C100.1,330.3 102.5,330.8 104.9,331.4 C107.3,331.9 109.7,332.7 112.1,333.2 C114.5,333.7 117,333.9 119.4,334.2 C121.8,334.5 124.2,334.8 126.6,335.1 C129,335.4 131.4,335.7 133.8,336 C136.2,336.3 138.7,336.6 141.1,336.9 C143.5,337.2 145.9,337.5 148.3,337.8 C150.7,338.1 153.1,338.3 155.5,338.6 C157.9,338.9 160.3,339.1 162.8,339.4 C165.2,339.6 167.6,339.9 170,340.1 C172.4,340.3 174.8,340.6 177.2,340.8 C179.6,341 182,341.2 184.4,341.4 C186.8,341.6 189.3,341.8 191.7,341.9 C194.1,342.1 196.5,342.2 198.9,342.3 C201.3,342.4 203.7,342.4 206.1,342.5 C208.5,342.5 211,342.6 213.4,342.6 C215.8,342.7 218.2,342.8 220.6,342.8 C223,342.9 225.4,342.9 227.8,343 C230.2,343 232.6,343.1 235.1,343.1 C237.5,343.2 239.9,343.3 242.3,343.3 C244.7,343.4 247.1,343.4 249.5,343.5 C251.9,343.5 254.3,343.6 256.7,343.7 C259.2,343.7 261.6,343.8 264,343.8 C266.4,343.9 270,344 271.2,344 " fill="none" stroke="#9080c0" stroke-width="0.95"/>
<g fill="none" stroke="#9080c0" stroke-width="0.8"><path d="M59.5,311.5 l2,-2 l2,2 l-2,2 z"/><path d="M66.8,320.5 l2,-2 l2,2 l-2,2 z"/><path d="M74,324.2 l2,-2 l2,2 l-2,2 z"/><path d="M81.2,326.1 l2,-2 l2,2 l-2,2 z"/><path d="M88.5,328.7 l2,-2 l2,2 l-2,2 z"/><path d="M95.7,329.9 l2,-2 l2,2 l-2,2 z"/><path d="M102.9,331.4 l2,-2 l2,2 l-2,2 z"/><path d="M110.1,333.2 l2,-2 l2,2 l-2,2 z"/><path d="M117.4,334.2 l2,-2 l2,2 l-2,2 z"/><path d="M124.6,335.1 l2,-2 l2,2 l-2,2 z"/><path d="M131.8,336 l2,-2 l2,2 l-2,2 z"/><path d="M139.1,336.9 l2,-2 l2,2 l-2,2 z"/><path d="M146.3,337.8 l2,-2 l2,2 l-2,2 z"/><path d="M153.5,338.6 l2,-2 l2,2 l-2,2 z"/><path d="M160.8,339.4 l2,-2 l2,2 l-2,2 z"/><path d="M168,340.1 l2,-2 l2,2 l-2,2 z"/><path d="M175.2,340.8 l2,-2 l2,2 l-2,2 z"/><path d="M182.4,341.4 l2,-2 l2,2 l-2,2 z"/><path d="M189.7,341.9 l2,-2 l2,2 l-2,2 z"/><path d="M196.9,342.3 l2,-2 l2,2 l-2,2 z"/><path d="M204.1,342.5 l2,-2 l2,2 l-2,2 z"/><path d="M211.4,342.6 l2,-2 l2,2 l-2,2 z"/><path d="M218.6,342.8 l2,-2 l2,2 l-2,2 z"/><path d="M225.8,343 l2,-2 l2,2 l-2,2 z"/><path d="M233.1,343.1 l2,-2 l2,2 l-2,2 z"/><path d="M240.3,343.3 l2,-2 l2,2 l-2,2 z"/><path d="M247.5,343.5 l2,-2 l2,2 l-2,2 z"/><path d="M254.7,343.7 l2,-2 l2,2 l-2,2 z"/><path d="M262,343.8 l2,-2 l2,2 l-2,2 z"/><path d="M269.2,344 l2,-2 l2,2 l-2,2 z"/></g>
<path d="M54.3,230.6 C55.5,241.3 59.1,282.8 61.5,294.7 C63.9,306.6 66.3,300.6 68.8,301.8 C71.2,303 73.6,301.9 76,301.8 C78.4,301.7 80.8,299.8 83.2,301.4 C85.6,302.9 88,310 90.5,311.1 C92.9,312.2 95.3,307.7 97.7,308.1 C100.1,308.5 102.5,312.6 104.9,313.6 C107.3,314.6 109.7,313.8 112.1,314.1 C114.5,314.4 117,315.1 119.4,315.6 C121.8,316.1 124.2,316.7 126.6,317.1 C129,317.5 131.4,317.6 133.8,317.8 C136.2,318 138.7,318.2 141.1,318.5 C143.5,318.7 145.9,318.9 148.3,319.1 C150.7,319.3 153.1,319.5 155.5,319.7 C157.9,319.9 160.3,320.1 162.8,320.3 C165.2,320.5 167.6,320.7 170,320.9 C172.4,321 174.8,321.2 177.2,321.4 C179.6,321.5 182,321.7 184.4,321.8 C186.8,322 189.3,322.1 191.7,322.2 C194.1,322.3 196.5,322.4 198.9,322.5 C201.3,322.6 203.7,322.7 206.1,322.8 C208.5,322.9 211,323 213.4,323.1 C215.8,323.2 218.2,323.3 220.6,323.4 C223,323.5 225.4,323.6 227.8,323.7 C230.2,323.8 232.6,323.9 235.1,324 C237.5,324.1 239.9,324.2 242.3,324.3 C244.7,324.4 247.1,324.5 249.5,324.6 C251.9,324.7 254.3,324.8 256.7,324.9 C259.2,325 261.6,325.1 264,325.2 C266.4,325.3 270,325.4 271.2,325.5 " fill="none" stroke="#9bbb59" stroke-width="0.95"/>
<g fill="#9bbb59"><path d="M59.2,296.4 l2.3,-4 l2.3,4 z"/><path d="M66.5,303.5 l2.3,-4 l2.3,4 z"/><path d="M73.7,303.5 l2.3,-4 l2.3,4 z"/><path d="M80.9,303.1 l2.3,-4 l2.3,4 z"/><path d="M88.2,312.8 l2.3,-4 l2.3,4 z"/><path d="M95.4,309.8 l2.3,-4 l2.3,4 z"/><path d="M102.6,315.3 l2.3,-4 l2.3,4 z"/><path d="M109.8,315.8 l2.3,-4 l2.3,4 z"/><path d="M117.1,317.3 l2.3,-4 l2.3,4 z"/><path d="M124.3,318.8 l2.3,-4 l2.3,4 z"/><path d="M131.5,319.5 l2.3,-4 l2.3,4 z"/><path d="M138.8,320.2 l2.3,-4 l2.3,4 z"/><path d="M146,320.8 l2.3,-4 l2.3,4 z"/><path d="M153.2,321.4 l2.3,-4 l2.3,4 z"/><path d="M160.4,322 l2.3,-4 l2.3,4 z"/><path d="M167.7,322.6 l2.3,-4 l2.3,4 z"/><path d="M174.9,323.1 l2.3,-4 l2.3,4 z"/><path d="M182.1,323.5 l2.3,-4 l2.3,4 z"/><path d="M189.4,323.9 l2.3,-4 l2.3,4 z"/><path d="M196.6,324.2 l2.3,-4 l2.3,4 z"/><path d="M203.8,324.5 l2.3,-4 l2.3,4 z"/><path d="M211.1,324.8 l2.3,-4 l2.3,4 z"/><path d="M218.3,325.1 l2.3,-4 l2.3,4 z"/><path d="M225.5,325.4 l2.3,-4 l2.3,4 z"/><path d="M232.8,325.7 l2.3,-4 l2.3,4 z"/><path d="M240,326 l2.3,-4 l2.3,4 z"/><path d="M247.2,326.3 l2.3,-4 l2.3,4 z"/><path d="M254.4,326.6 l2.3,-4 l2.3,4 z"/><path d="M261.7,326.9 l2.3,-4 l2.3,4 z"/><path d="M268.9,327.2 l2.3,-4 l2.3,4 z"/></g>
<path d="M54.3,230.6 C55.5,237.1 59.1,259.4 61.5,269.5 C63.9,279.6 66.3,286.2 68.8,290.9 C71.2,295.6 73.6,295.8 76,297.7 C78.4,299.6 80.8,301 83.2,302.1 C85.6,303.2 88,303.5 90.5,304.1 C92.9,304.7 95.3,305.3 97.7,305.9 C100.1,306.4 102.5,306.9 104.9,307.4 C107.3,307.8 109.7,308.2 112.1,308.6 C114.5,309.1 117,309.8 119.4,310.1 C121.8,310.5 124.2,310.4 126.6,310.7 C129,311 131.4,311.6 133.8,312 C136.2,312.5 138.7,312.9 141.1,313.3 C143.5,313.7 145.9,314.1 148.3,314.5 C150.7,314.9 153.1,315.3 155.5,315.7 C157.9,316.1 160.3,316.5 162.8,316.8 C165.2,317.2 167.6,317.5 170,317.9 C172.4,318.2 174.8,318.5 177.2,318.8 C179.6,319.2 182,319.5 184.4,319.7 C186.8,320 189.3,320.3 191.7,320.5 C194.1,320.7 196.5,320.9 198.9,321 C201.3,321.1 203.7,321.2 206.1,321.4 C208.5,321.5 211,321.6 213.4,321.7 C215.8,321.8 218.2,321.9 220.6,322.1 C223,322.2 225.4,322.3 227.8,322.4 C230.2,322.5 232.6,322.6 235.1,322.8 C237.5,322.9 239.9,323 242.3,323.1 C244.7,323.2 247.1,323.3 249.5,323.4 C251.9,323.6 254.3,323.7 256.7,323.8 C259.2,323.9 261.6,324 264,324.1 C266.4,324.3 270,324.4 271.2,324.5 " fill="none" stroke="#4f81bd" stroke-width="0.95"/>
<g fill="#4f81bd" stroke="#3d6aa8" stroke-width="0.5"><rect x="59.8" y="267.8" width="3.4" height="3.4"/><rect x="67.1" y="289.2" width="3.4" height="3.4"/><rect x="74.3" y="296" width="3.4" height="3.4"/><rect x="81.5" y="300.4" width="3.4" height="3.4"/><rect x="88.8" y="302.4" width="3.4" height="3.4"/><rect x="96" y="304.2" width="3.4" height="3.4"/><rect x="103.2" y="305.7" width="3.4" height="3.4"/><rect x="110.4" y="306.9" width="3.4" height="3.4"/><rect x="117.7" y="308.4" width="3.4" height="3.4"/><rect x="124.9" y="309" width="3.4" height="3.4"/><rect x="132.1" y="310.3" width="3.4" height="3.4"/><rect x="139.4" y="311.6" width="3.4" height="3.4"/><rect x="146.6" y="312.8" width="3.4" height="3.4"/><rect x="153.8" y="314" width="3.4" height="3.4"/><rect x="161.1" y="315.1" width="3.4" height="3.4"/><rect x="168.3" y="316.2" width="3.4" height="3.4"/><rect x="175.5" y="317.1" width="3.4" height="3.4"/><rect x="182.7" y="318" width="3.4" height="3.4"/><rect x="190" y="318.8" width="3.4" height="3.4"/><rect x="197.2" y="319.3" width="3.4" height="3.4"/><rect x="204.4" y="319.7" width="3.4" height="3.4"/><rect x="211.7" y="320" width="3.4" height="3.4"/><rect x="218.9" y="320.4" width="3.4" height="3.4"/><rect x="226.1" y="320.7" width="3.4" height="3.4"/><rect x="233.4" y="321.1" width="3.4" height="3.4"/><rect x="240.6" y="321.4" width="3.4" height="3.4"/><rect x="247.8" y="321.8" width="3.4" height="3.4"/><rect x="255" y="322.1" width="3.4" height="3.4"/><rect x="262.3" y="322.4" width="3.4" height="3.4"/><rect x="269.5" y="322.8" width="3.4" height="3.4"/></g>
<path d="M54.3,230.6 C55.5,234.8 59.1,247.6 61.5,256 C63.9,264.4 66.3,275.1 68.8,280.8 C71.2,286.5 73.6,288 76,290.2 C78.4,292.4 80.8,292.8 83.2,293.9 C85.6,295 88,296.2 90.5,296.9 C92.9,297.6 95.3,297.4 97.7,298.1 C100.1,298.8 102.5,300.2 104.9,300.9 C107.3,301.6 109.7,301.7 112.1,302.1 C114.5,302.5 117,302.9 119.4,303.2 C121.8,303.5 124.2,303.7 126.6,304.1 C129,304.5 131.4,304.9 133.8,305.3 C136.2,305.7 138.7,306.1 141.1,306.5 C143.5,306.8 145.9,307.2 148.3,307.6 C150.7,308 153.1,308.3 155.5,308.7 C157.9,309 160.3,309.4 162.8,309.7 C165.2,310 167.6,310.3 170,310.6 C172.4,311 174.8,311.3 177.2,311.5 C179.6,311.8 182,312.1 184.4,312.3 C186.8,312.6 189.3,312.8 191.7,313 C194.1,313.2 196.5,313.4 198.9,313.5 C201.3,313.6 203.7,313.7 206.1,313.9 C208.5,314 211,314.1 213.4,314.2 C215.8,314.3 218.2,314.5 220.6,314.6 C223,314.7 225.4,314.8 227.8,314.9 C230.2,315.1 232.6,315.2 235.1,315.3 C237.5,315.4 239.9,315.5 242.3,315.7 C244.7,315.8 247.1,315.9 249.5,316 C251.9,316.1 254.3,316.3 256.7,316.4 C259.2,316.5 261.6,316.6 264,316.7 C266.4,316.9 270,317 271.2,317.1 " fill="none" stroke="#c0504d" stroke-width="0.95"/>
<g fill="#c0504d" stroke="#a03c38" stroke-width="0.5"><circle cx="61.5" cy="256" r="2.0"/><circle cx="68.8" cy="280.8" r="2.0"/><circle cx="76" cy="290.2" r="2.0"/><circle cx="83.2" cy="293.9" r="2.0"/><circle cx="90.5" cy="296.9" r="2.0"/><circle cx="97.7" cy="298.1" r="2.0"/><circle cx="104.9" cy="300.9" r="2.0"/><circle cx="112.1" cy="302.1" r="2.0"/><circle cx="119.4" cy="303.2" r="2.0"/><circle cx="126.6" cy="304.1" r="2.0"/><circle cx="133.8" cy="305.3" r="2.0"/><circle cx="141.1" cy="306.5" r="2.0"/><circle cx="148.3" cy="307.6" r="2.0"/><circle cx="155.5" cy="308.7" r="2.0"/><circle cx="162.8" cy="309.7" r="2.0"/><circle cx="170" cy="310.6" r="2.0"/><circle cx="177.2" cy="311.5" r="2.0"/><circle cx="184.4" cy="312.3" r="2.0"/><circle cx="191.7" cy="313" r="2.0"/><circle cx="198.9" cy="313.5" r="2.0"/><circle cx="206.1" cy="313.9" r="2.0"/><circle cx="213.4" cy="314.2" r="2.0"/><circle cx="220.6" cy="314.6" r="2.0"/><circle cx="227.8" cy="314.9" r="2.0"/><circle cx="235.1" cy="315.3" r="2.0"/><circle cx="242.3" cy="315.7" r="2.0"/><circle cx="249.5" cy="316" r="2.0"/><circle cx="256.7" cy="316.4" r="2.0"/><circle cx="264" cy="316.7" r="2.0"/><circle cx="271.2" cy="317.1" r="2.0"/></g>
<rect x="52.2" y="228.8" width="3.8" height="3.8" fill="#8ba5b8" stroke="#777" stroke-width="0.5"/>
<path d="M215.3,228.6 H223.4" stroke="#4f81bd" stroke-width="1"/>
<rect x="217.7" y="227" width="3.2" height="3.2" fill="#4f81bd"/>
<text x="224.2" y="231.6" font-size="8.0" font-weight="bold" textLength="32.3" lengthAdjust="spacingAndGlyphs" fill="#1a1a1a">2V_70ns</text>
<path d="M215.3,240 H223.4" stroke="#c0504d" stroke-width="1"/>
<circle cx="219.3" cy="240" r="1.8" fill="#c0504d"/>
<text x="224.2" y="243" font-size="8.0" font-weight="bold" textLength="32.3" lengthAdjust="spacingAndGlyphs" fill="#1a1a1a">2V_50ns</text>
<path d="M215.3,251.4 H223.4" stroke="#9bbb59" stroke-width="1"/>
<path d="M217.5,252.6 l1.8,-2.8 l1.8,2.8 z" fill="#9bbb59"/>
<text x="224.2" y="254.4" font-size="8.0" font-weight="bold" textLength="37" lengthAdjust="spacingAndGlyphs" fill="#1a1a1a">2V_100ns</text>
<path d="M215.3,262.8 H223.4" stroke="#9080c0" stroke-width="1"/>
<path d="M217.6,262.8 l1.7,-1.7 l1.7,1.7 l-1.7,1.7 z" fill="none" stroke="#9080c0" stroke-width="0.6"/>
<text x="224.2" y="265.8" font-size="8.0" font-weight="bold" textLength="37" lengthAdjust="spacingAndGlyphs" fill="#1a1a1a">2V_300ns</text>
<path d="M215.3,274.2 H223.4" stroke="#4bacc6" stroke-width="1"/>
<text x="224.2" y="277.2" font-size="8.0" font-weight="bold" textLength="37" lengthAdjust="spacingAndGlyphs" fill="#1a1a1a">2V_500ns</text>
<path d="M215.3,285.6 H223.4" stroke="#f79646" stroke-width="1"/>
<text x="224.2" y="288.6" font-size="8.0" font-weight="bold" textLength="27.7" lengthAdjust="spacingAndGlyphs" fill="#1a1a1a">2V_1us</text>
<rect x="348" y="223.7" width="196.4" height="147.2" fill="none" stroke="#222" stroke-width="1.4"/>
<path d="M348,370.9 h-2.5" stroke="#333" stroke-width="0.8"/>
<text x="330.4" y="374" font-size="8.6" font-weight="bold" text-anchor="end" textLength="5.1" lengthAdjust="spacingAndGlyphs">0</text>
<path d="M348,352.5 h-2.5" stroke="#333" stroke-width="0.8"/>
<text x="330.4" y="355.6" font-size="8.6" font-weight="bold" text-anchor="end" textLength="25.5" lengthAdjust="spacingAndGlyphs">20000</text>
<path d="M348,334.1 h-2.5" stroke="#333" stroke-width="0.8"/>
<text x="330.4" y="337.2" font-size="8.6" font-weight="bold" text-anchor="end" textLength="25.5" lengthAdjust="spacingAndGlyphs">40000</text>
<path d="M348,315.7 h-2.5" stroke="#333" stroke-width="0.8"/>
<text x="330.4" y="318.8" font-size="8.6" font-weight="bold" text-anchor="end" textLength="25.5" lengthAdjust="spacingAndGlyphs">60000</text>
<path d="M348,297.3 h-2.5" stroke="#333" stroke-width="0.8"/>
<text x="330.4" y="300.4" font-size="8.6" font-weight="bold" text-anchor="end" textLength="25.5" lengthAdjust="spacingAndGlyphs">80000</text>
<path d="M348,278.9 h-2.5" stroke="#333" stroke-width="0.8"/>
<text x="330.4" y="282" font-size="8.6" font-weight="bold" text-anchor="end" textLength="30.6" lengthAdjust="spacingAndGlyphs">100000</text>
<path d="M348,260.5 h-2.5" stroke="#333" stroke-width="0.8"/>
<text x="330.4" y="263.6" font-size="8.6" font-weight="bold" text-anchor="end" textLength="30.6" lengthAdjust="spacingAndGlyphs">120000</text>
<path d="M348,242.1 h-2.5" stroke="#333" stroke-width="0.8"/>
<text x="330.4" y="245.2" font-size="8.6" font-weight="bold" text-anchor="end" textLength="30.6" lengthAdjust="spacingAndGlyphs">140000</text>
<path d="M348,223.7 h-2.5" stroke="#333" stroke-width="0.8"/>
<text x="330.4" y="226.8" font-size="8.6" font-weight="bold" text-anchor="end" textLength="30.6" lengthAdjust="spacingAndGlyphs">160000</text>
<path d="M413.5,370.9 v-2" stroke="#333" stroke-width="0.8"/>
<path d="M478.9,370.9 v-2" stroke="#333" stroke-width="0.8"/>
<text x="348" y="385.6" font-size="8.6" font-weight="bold" text-anchor="middle" textLength="5" lengthAdjust="spacingAndGlyphs">0</text>
<text x="413.5" y="385.6" font-size="8.6" font-weight="bold" text-anchor="middle" textLength="5" lengthAdjust="spacingAndGlyphs">5</text>
<text x="478.9" y="385.6" font-size="8.6" font-weight="bold" text-anchor="middle" textLength="10.4" lengthAdjust="spacingAndGlyphs">10</text>
<text x="544.4" y="385.6" font-size="8.6" font-weight="bold" text-anchor="middle" textLength="10.4" lengthAdjust="spacingAndGlyphs">15</text>
<text x="383.8" y="397.2" font-size="8.6" font-weight="bold" textLength="124.5" lengthAdjust="spacingAndGlyphs">Number of depressing pulse</text>
<text x="292.6" y="335" font-size="10.5" font-weight="bold" textLength="74" lengthAdjust="spacingAndGlyphs" transform="rotate(-90 292.6 335)">Resistance [Ω]</text>
<path d="M348,370.9 L361.1,259.6 L361.1,259.6 C361.6,259.4 361.8,258.5 364,258.4 C366.2,258.3 370.3,258.9 374.2,259.2 C378.1,259.5 382.9,260.1 387.3,260.4 C391.6,260.6 396,260.9 400.4,260.7 C404.7,260.5 409.1,259.4 413.5,259.2 C417.8,258.9 422.2,259.2 426.6,259.2 C430.9,259.2 435.3,259.2 439.7,259.2 C444,259.2 448.4,259.2 452.7,259.2 C457.1,259.2 461.5,259.2 465.8,259.2 C470.2,259.2 474.6,259.2 478.9,259.2 C483.3,259.2 487.7,259.3 492,259.2 C496.4,259.1 500.8,258.7 505.1,258.5 C509.5,258.3 513.8,258 518.2,257.8 C522.6,257.6 526.9,257.5 531.3,257.4 C535.7,257.3 542.2,257.4 544.4,257.4 " fill="none" stroke="#9bbb59" stroke-width="1.0"/>
<g fill="#9bbb59"><path d="M359.1,261 l2,-3.4 l2,3.4 z"/><path d="M372.2,260.6 l2,-3.4 l2,3.4 z"/><path d="M385.3,261.8 l2,-3.4 l2,3.4 z"/><path d="M398.4,262.1 l2,-3.4 l2,3.4 z"/><path d="M411.5,260.6 l2,-3.4 l2,3.4 z"/><path d="M424.6,260.6 l2,-3.4 l2,3.4 z"/><path d="M437.7,260.6 l2,-3.4 l2,3.4 z"/><path d="M450.7,260.6 l2,-3.4 l2,3.4 z"/><path d="M463.8,260.6 l2,-3.4 l2,3.4 z"/><path d="M476.9,260.6 l2,-3.4 l2,3.4 z"/><path d="M490,260.6 l2,-3.4 l2,3.4 z"/><path d="M503.1,259.9 l2,-3.4 l2,3.4 z"/><path d="M516.2,259.2 l2,-3.4 l2,3.4 z"/><path d="M529.3,258.8 l2,-3.4 l2,3.4 z"/><path d="M542.4,258.8 l2,-3.4 l2,3.4 z"/></g>
<path d="M348,370.9 L361.1,255.9 L361.1,255.9 C361.6,255.6 361.8,253.6 364,253.8 C366.2,254.1 370.3,256.8 374.2,257.4 C378.1,258 382.9,257.3 387.3,257.4 C391.6,257.5 396,258 400.4,258.1 C404.7,258.2 409.1,258 413.5,257.9 C417.8,257.8 422.2,257.4 426.6,257.4 C430.9,257.4 435.3,257.8 439.7,257.9 C444,258 448.4,257.6 452.7,257.9 C457.1,258.2 461.5,259.6 465.8,259.9 C470.2,260.2 474.6,260 478.9,259.9 C483.3,259.8 487.7,259 492,259.2 C496.4,259.4 500.8,260.9 505.1,261 C509.5,261.1 513.8,260.1 518.2,259.9 C522.6,259.7 526.9,259.9 531.3,259.9 C535.7,259.9 542.2,259.9 544.4,259.9 " fill="none" stroke="#c0504d" stroke-width="1.0"/>
<g fill="#c0504d"><rect x="359.2" y="254" width="3.8" height="3.8"/><rect x="372.3" y="255.5" width="3.8" height="3.8"/><rect x="385.4" y="255.5" width="3.8" height="3.8"/><rect x="398.5" y="256.2" width="3.8" height="3.8"/><rect x="411.6" y="256" width="3.8" height="3.8"/><rect x="424.7" y="255.5" width="3.8" height="3.8"/><rect x="437.8" y="256" width="3.8" height="3.8"/><rect x="450.8" y="256" width="3.8" height="3.8"/><rect x="463.9" y="258" width="3.8" height="3.8"/><rect x="477" y="258" width="3.8" height="3.8"/><rect x="490.1" y="257.3" width="3.8" height="3.8"/><rect x="503.2" y="259.1" width="3.8" height="3.8"/><rect x="516.3" y="258" width="3.8" height="3.8"/><rect x="529.4" y="258" width="3.8" height="3.8"/><rect x="542.5" y="258" width="3.8" height="3.8"/></g>
<path d="M348,370.9 L361.1,255.1 L361.1,255.1 C361.7,254.8 362.3,253.8 364.5,253.6 C366.7,253.3 370.4,253.7 374.2,253.6 C378,253.5 382.9,253.2 387.3,252.9 C391.6,252.7 396,252.4 400.4,252.1 C404.7,251.8 409.1,251.1 413.5,250.8 C417.8,250.5 422.2,250.7 426.6,250.3 C430.9,249.9 435.3,248.7 439.7,248.5 C444,248.3 448.4,248.9 452.7,249 C457.1,249.1 461.5,248.8 465.8,249 C470.2,249.2 474.6,250.3 478.9,250.3 C483.3,250.3 487.7,249.3 492,249 C496.4,248.7 500.8,248.6 505.1,248.3 C509.5,248 513.8,247.5 518.2,247.3 C522.6,247.1 526.9,247.3 531.3,247.3 C535.7,247.3 542.2,247.3 544.4,247.3 " fill="none" stroke="#9080c0" stroke-width="1.0"/>
<g fill="none" stroke="#9080c0" stroke-width="0.7"><circle cx="361.1" cy="255.1" r="1.8"/><circle cx="374.2" cy="253.6" r="1.8"/><circle cx="387.3" cy="252.9" r="1.8"/><circle cx="400.4" cy="252.1" r="1.8"/><circle cx="413.5" cy="250.8" r="1.8"/><circle cx="426.6" cy="250.3" r="1.8"/><circle cx="439.7" cy="248.5" r="1.8"/><circle cx="452.7" cy="249" r="1.8"/><circle cx="465.8" cy="249" r="1.8"/><circle cx="478.9" cy="250.3" r="1.8"/><circle cx="492" cy="249" r="1.8"/><circle cx="505.1" cy="248.3" r="1.8"/><circle cx="518.2" cy="247.3" r="1.8"/><circle cx="531.3" cy="247.3" r="1.8"/><circle cx="544.4" cy="247.3" r="1.8"/></g>
<path d="M348,370.9 L361.1,272.3 L361.1,272.3 C363.3,271 369.8,267.3 374.2,264.4 C378.6,261.5 382.9,257.2 387.3,255.1 C391.6,253 396,252.7 400.4,251.7 C404.7,250.7 409.1,249.4 413.5,249 C417.8,248.6 422.2,249.2 426.6,249 C430.9,248.8 435.3,247.8 439.7,247.8 C444,247.8 448.4,248.8 452.7,249 C457.1,249.2 461.5,248.9 465.8,249 C470.2,249.1 474.6,249.7 478.9,249.8 C483.3,249.9 487.7,249.5 492,249.8 C496.4,250.1 500.8,251.1 505.1,251.6 C509.5,252.1 513.8,252.4 518.2,252.8 C522.6,253.2 526.9,253.9 531.3,254.1 C535.7,254.3 542.2,254.1 544.4,254.1 " fill="none" stroke="#4f81bd" stroke-width="1.0"/>
<g fill="#4f81bd"><circle cx="361.1" cy="272.3" r="2.1"/><circle cx="374.2" cy="264.4" r="2.1"/><circle cx="387.3" cy="255.1" r="2.1"/><circle cx="400.4" cy="251.7" r="2.1"/><circle cx="413.5" cy="249" r="2.1"/><circle cx="426.6" cy="249" r="2.1"/><circle cx="439.7" cy="247.8" r="2.1"/><circle cx="452.7" cy="249" r="2.1"/><circle cx="465.8" cy="249" r="2.1"/><circle cx="478.9" cy="249.8" r="2.1"/><circle cx="492" cy="249.8" r="2.1"/><circle cx="505.1" cy="251.6" r="2.1"/><circle cx="518.2" cy="252.8" r="2.1"/><circle cx="531.3" cy="254.1" r="2.1"/><circle cx="544.4" cy="254.1" r="2.1"/></g>
<path d="M348,370.9 L361.1,246.2 L361.1,246.2 C361.7,245.9 362.4,244.1 364.6,244.3 C366.8,244.5 370.4,247.1 374.2,247.4 C378,247.7 382.9,246.6 387.3,246.2 C391.6,245.8 396,244.9 400.4,244.7 C404.7,244.5 409.1,245.2 413.5,245.1 C417.8,245 422.2,244.3 426.6,244 C430.9,243.7 435.3,243.4 439.7,243.2 C444,243 448.4,242.7 452.7,242.7 C457.1,242.7 461.5,243.3 465.8,243.2 C470.2,243.1 474.6,242.5 478.9,242.2 C483.3,241.9 487.7,241.3 492,241.5 C496.4,241.7 500.8,243.3 505.1,243.2 C509.5,243.1 513.8,241.3 518.2,241 C522.6,240.7 526.9,241.3 531.3,241.5 C535.7,241.7 542.2,242.1 544.4,242.2 " fill="none" stroke="#4bacc6" stroke-width="1.0"/>
<g fill="none" stroke="#4bacc6" stroke-width="0.8"><circle cx="361.1" cy="246.2" r="2.0"/><circle cx="374.2" cy="247.4" r="2.0"/><circle cx="387.3" cy="246.2" r="2.0"/><circle cx="400.4" cy="244.7" r="2.0"/><circle cx="413.5" cy="245.1" r="2.0"/><circle cx="426.6" cy="244" r="2.0"/><circle cx="439.7" cy="243.2" r="2.0"/><circle cx="452.7" cy="242.7" r="2.0"/><circle cx="465.8" cy="243.2" r="2.0"/><circle cx="478.9" cy="242.2" r="2.0"/><circle cx="492" cy="241.5" r="2.0"/><circle cx="505.1" cy="243.2" r="2.0"/><circle cx="518.2" cy="241" r="2.0"/><circle cx="531.3" cy="241.5" r="2.0"/><circle cx="544.4" cy="242.2" r="2.0"/></g>
<rect x="346.2" y="369.1" width="3.6" height="3.6" fill="#b8b070" stroke="#999" stroke-width="0.5"/>
<path d="M492.6,303.1 H500.4" stroke="#4f81bd" stroke-width="1"/>
<circle cx="496.5" cy="303.1" r="1.5" fill="#4f81bd"/>
<text x="501" y="305.9" font-size="7.6" font-weight="bold" textLength="31.5" lengthAdjust="spacingAndGlyphs" fill="#1a1a1a">8V_50ns</text>
<path d="M492.6,316.8 H500.4" stroke="#c0504d" stroke-width="1"/>
<circle cx="496.5" cy="316.8" r="1.5" fill="#c0504d"/>
<text x="501" y="319.6" font-size="7.6" font-weight="bold" textLength="31.5" lengthAdjust="spacingAndGlyphs" fill="#1a1a1a">8V_70ns</text>
<path d="M492.6,330.4 H500.4" stroke="#9bbb59" stroke-width="1"/>
<circle cx="496.5" cy="330.4" r="1.5" fill="#9bbb59"/>
<text x="501" y="333.2" font-size="7.6" font-weight="bold" textLength="36" lengthAdjust="spacingAndGlyphs" fill="#1a1a1a">8V_100ns</text>
<path d="M492.6,344.1 H500.4" stroke="#9080c0" stroke-width="1"/>
<circle cx="496.5" cy="344.1" r="1.5" fill="#9080c0"/>
<text x="501" y="346.9" font-size="7.6" font-weight="bold" textLength="36" lengthAdjust="spacingAndGlyphs" fill="#1a1a1a">8V_300ns</text>
<path d="M492.6,357.7 H500.4" stroke="#4bacc6" stroke-width="1"/>
<circle cx="496.5" cy="357.7" r="1.5" fill="#4bacc6"/>
<text x="501" y="360.5" font-size="7.6" font-weight="bold" textLength="36" lengthAdjust="spacingAndGlyphs" fill="#1a1a1a">8V_500ns</text>
</svg></body></html>
